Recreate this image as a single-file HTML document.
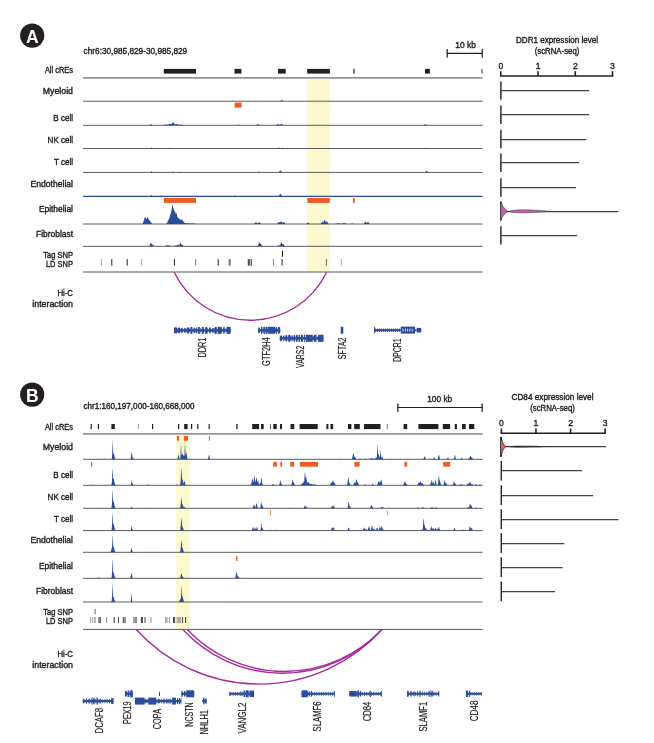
<!DOCTYPE html>
<html><head><meta charset="utf-8"><title>Figure</title>
<style>html,body{margin:0;padding:0;background:#fff;width:654px;height:743px;overflow:hidden}svg{display:block}</style>
</head><body>
<svg width="654" height="743" viewBox="0 0 654 743" font-family="'Liberation Sans', sans-serif"><rect x="0" y="0" width="654" height="743" fill="#ffffff"/>
<rect x="307.20" y="78.30" width="22.60" height="192.70" fill="#fdf9cf"/>
<circle cx="32.2" cy="35.6" r="12.1" fill="#231f20"/>
<text x="32.2" y="42.5" font-size="17.5" font-weight="bold" text-anchor="middle" fill="#ffffff">A</text>
<text x="83.60" y="53.80" font-size="8.5" text-anchor="start" fill="#231f20" textLength="103.60" lengthAdjust="spacingAndGlyphs" stroke="#231f20" stroke-width="0.38" >chr6:30,985,829-30,985,829</text>
<line x1="446.70" y1="53.40" x2="482.70" y2="53.40" stroke="#231f20" stroke-width="1.2"/>
<line x1="447.20" y1="49.00" x2="447.20" y2="57.80" stroke="#231f20" stroke-width="1.2"/>
<line x1="482.20" y1="49.00" x2="482.20" y2="57.80" stroke="#231f20" stroke-width="1.2"/>
<text x="465.60" y="48.40" font-size="8.5" text-anchor="middle" fill="#231f20" textLength="20.50" lengthAdjust="spacingAndGlyphs" stroke="#231f20" stroke-width="0.38" >10 kb</text>
<text x="73.00" y="73.30" font-size="8.5" text-anchor="end" fill="#231f20" textLength="28.10" lengthAdjust="spacingAndGlyphs" stroke="#231f20" stroke-width="0.38" >All cREs</text>
<text x="73.00" y="93.50" font-size="8.5" text-anchor="end" fill="#231f20" textLength="30.20" lengthAdjust="spacingAndGlyphs" stroke="#231f20" stroke-width="0.38" >Myeloid</text>
<text x="73.00" y="121.00" font-size="8.5" text-anchor="end" fill="#231f20" textLength="19.70" lengthAdjust="spacingAndGlyphs" stroke="#231f20" stroke-width="0.38" >B cell</text>
<text x="73.00" y="143.10" font-size="8.5" text-anchor="end" fill="#231f20" textLength="25.40" lengthAdjust="spacingAndGlyphs" stroke="#231f20" stroke-width="0.38" >NK cell</text>
<text x="73.00" y="165.40" font-size="8.5" text-anchor="end" fill="#231f20" textLength="18.90" lengthAdjust="spacingAndGlyphs" stroke="#231f20" stroke-width="0.38" >T cell</text>
<text x="73.00" y="186.60" font-size="8.5" text-anchor="end" fill="#231f20" textLength="42.60" lengthAdjust="spacingAndGlyphs" stroke="#231f20" stroke-width="0.38" >Endothelial</text>
<text x="73.00" y="212.20" font-size="8.5" text-anchor="end" fill="#231f20" textLength="34.10" lengthAdjust="spacingAndGlyphs" stroke="#231f20" stroke-width="0.38" >Epithelial</text>
<text x="73.00" y="237.40" font-size="8.5" text-anchor="end" fill="#231f20" textLength="36.90" lengthAdjust="spacingAndGlyphs" stroke="#231f20" stroke-width="0.38" >Fibroblast</text>
<text x="73.00" y="258.10" font-size="8.5" text-anchor="end" fill="#231f20" textLength="29.80" lengthAdjust="spacingAndGlyphs" stroke="#231f20" stroke-width="0.38" >Tag SNP</text>
<text x="73.00" y="266.60" font-size="8.5" text-anchor="end" fill="#231f20" textLength="27.10" lengthAdjust="spacingAndGlyphs" stroke="#231f20" stroke-width="0.38" >LD SNP</text>
<text x="73.00" y="296.00" font-size="8.5" text-anchor="end" fill="#231f20" textLength="15.60" lengthAdjust="spacingAndGlyphs" stroke="#231f20" stroke-width="0.38" >Hi-C</text>
<text x="73.00" y="306.70" font-size="8.5" text-anchor="end" fill="#231f20" textLength="40.70" lengthAdjust="spacingAndGlyphs" stroke="#231f20" stroke-width="0.38" >interaction</text>
<line x1="83.00" y1="77.80" x2="482.50" y2="77.80" stroke="#959595" stroke-width="1.8"/>
<line x1="83.00" y1="101.20" x2="482.50" y2="101.20" stroke="#5c5c5c" stroke-width="1.0"/>
<line x1="83.00" y1="125.30" x2="482.50" y2="125.30" stroke="#5c5c5c" stroke-width="1.0"/>
<line x1="83.00" y1="148.50" x2="482.50" y2="148.50" stroke="#5c5c5c" stroke-width="1.0"/>
<line x1="83.00" y1="172.40" x2="482.50" y2="172.40" stroke="#5c5c5c" stroke-width="1.0"/>
<line x1="83.00" y1="224.00" x2="482.50" y2="224.00" stroke="#5c5c5c" stroke-width="1.0"/>
<line x1="83.00" y1="246.30" x2="482.50" y2="246.30" stroke="#5c5c5c" stroke-width="1.0"/>
<line x1="83.00" y1="196.30" x2="482.50" y2="196.30" stroke="#2c4c9c" stroke-width="1.2"/>
<line x1="83.00" y1="272.00" x2="482.50" y2="272.00" stroke="#aaaaaa" stroke-width="1.8"/>
<rect x="163.80" y="68.90" width="32.20" height="4.70" fill="#231f20"/>
<rect x="234.50" y="68.90" width="6.90" height="4.70" fill="#231f20"/>
<rect x="278.00" y="68.90" width="7.70" height="4.70" fill="#231f20"/>
<rect x="307.20" y="68.90" width="22.70" height="4.70" fill="#231f20"/>
<rect x="353.40" y="68.90" width="1.20" height="4.70" fill="#231f20"/>
<rect x="425.00" y="68.90" width="4.90" height="4.70" fill="#231f20"/>
<rect x="481.60" y="68.90" width="0.90" height="4.70" fill="#231f20"/>
<rect x="234.60" y="102.60" width="7.00" height="5.00" fill="#ef5b25"/>
<rect x="163.90" y="198.00" width="32.10" height="4.90" fill="#ef5b25"/>
<rect x="307.30" y="198.00" width="22.50" height="4.90" fill="#ef5b25"/>
<rect x="353.00" y="198.00" width="1.80" height="4.90" fill="#ef5b25"/>
<path d="M149.75,125.30 L149.75,125.00 L150.00,124.84 L150.25,124.66 L150.50,124.48 L150.75,124.35 L151.00,124.30 L151.25,124.35 L151.50,124.48 L151.75,124.66 L152.00,124.84 L152.25,125.00 L152.25,125.30 Z" fill="#2c4c9c"/>
<path d="M163.75,125.30 L163.75,125.04 L164.00,124.97 L164.25,124.89 L164.50,124.81 L164.75,124.73 L165.00,124.66 L165.25,124.59 L165.50,124.54 L165.75,124.51 L166.00,124.50 L166.25,124.51 L166.50,124.54 L166.75,124.59 L167.00,124.66 L167.25,124.73 L167.50,124.81 L167.75,124.81 L168.00,124.68 L168.25,124.54 L168.50,124.39 L168.75,124.24 L169.00,124.10 L169.25,123.98 L169.50,123.88 L169.75,123.82 L170.00,123.80 L170.25,123.82 L170.50,123.88 L170.75,123.98 L171.00,124.10 L171.25,124.24 L171.50,124.02 L171.75,123.67 L172.00,123.32 L172.25,123.00 L172.50,122.73 L172.75,122.56 L173.00,122.50 L173.25,122.56 L173.50,122.73 L173.75,123.00 L174.00,123.32 L174.25,123.67 L174.50,124.02 L174.75,124.33 L175.00,124.60 L175.25,124.69 L175.50,124.57 L175.75,124.45 L176.00,124.34 L176.25,124.24 L176.50,124.16 L176.75,124.12 L177.00,124.10 L177.25,124.12 L177.50,124.16 L177.75,124.24 L178.00,124.34 L178.25,124.45 L178.50,124.57 L178.75,124.69 L179.00,124.81 L179.25,124.91 L179.50,125.00 L179.75,124.93 L180.00,124.81 L180.25,124.70 L180.50,124.59 L180.75,124.52 L181.00,124.50 L181.25,124.52 L181.50,124.59 L181.75,124.70 L182.00,124.81 L182.25,124.93 L182.50,125.04 L182.50,125.30 Z" fill="#2c4c9c"/>
<path d="M238.25,125.30 L238.25,124.93 L238.50,124.73 L238.75,124.57 L239.00,124.50 L239.25,124.57 L239.50,124.73 L239.75,124.93 L239.75,125.30 Z" fill="#2c4c9c"/>
<path d="M256.00,125.30 L256.00,125.05 L256.25,124.95 L256.50,124.84 L256.75,124.72 L257.00,124.59 L257.25,124.48 L257.50,124.38 L257.75,124.32 L258.00,124.30 L258.25,124.32 L258.50,124.38 L258.75,124.48 L259.00,124.59 L259.25,124.72 L259.50,124.84 L259.75,124.95 L260.00,125.05 L260.00,125.30 Z" fill="#2c4c9c"/>
<path d="M276.25,125.30 L276.25,125.02 L276.50,124.88 L276.75,124.70 L277.00,124.51 L277.25,124.32 L277.50,124.15 L277.75,124.04 L278.00,124.00 L278.25,124.04 L278.50,124.15 L278.75,124.32 L279.00,124.51 L279.25,124.70 L279.50,124.88 L279.75,125.02 L280.00,124.88 L280.25,124.70 L280.50,124.51 L280.75,124.32 L281.00,124.15 L281.25,124.04 L281.50,124.00 L281.75,124.04 L282.00,124.15 L282.25,124.32 L282.50,124.51 L282.75,124.70 L283.00,124.88 L283.25,125.02 L283.25,125.30 Z" fill="#2c4c9c"/>
<path d="M423.75,125.30 L423.75,125.00 L424.00,124.87 L424.25,124.72 L424.50,124.57 L424.75,124.44 L425.00,124.34 L425.25,124.30 L425.30,124.30 L425.50,124.32 L425.75,124.40 L426.00,124.52 L426.25,124.66 L426.50,124.81 L426.75,124.95 L427.00,125.06 L427.00,125.30 Z" fill="#2c4c9c"/>
<path d="M280.75,101.20 L280.75,100.83 L281.00,100.54 L281.25,100.22 L281.50,99.97 L281.70,99.90 L281.75,99.90 L282.00,100.05 L282.25,100.35 L282.50,100.67 L282.75,100.92 L282.75,101.20 Z" fill="#2c4c9c"/>
<path d="M150.75,148.50 L150.75,148.13 L151.00,147.89 L151.25,147.66 L151.50,147.51 L151.60,147.50 L151.75,147.53 L152.00,147.70 L152.25,147.94 L152.50,148.18 L152.50,148.50 Z" fill="#2c4c9c"/>
<path d="M169.50,148.50 L169.50,148.28 L169.75,148.06 L170.00,147.83 L170.25,147.70 L170.30,147.70 L170.50,147.76 L170.75,147.97 L171.00,148.20 L171.00,148.50 Z" fill="#2c4c9c"/>
<path d="M277.50,148.50 L277.50,148.25 L277.75,148.04 L278.00,147.79 L278.25,147.58 L278.50,147.50 L278.75,147.58 L279.00,147.79 L279.25,148.04 L279.50,148.25 L279.50,148.50 Z" fill="#2c4c9c"/>
<path d="M281.75,148.50 L281.75,148.21 L282.00,148.01 L282.25,147.83 L282.50,147.71 L282.60,147.70 L282.75,147.72 L283.00,147.86 L283.25,148.06 L283.50,148.24 L283.50,148.50 Z" fill="#2c4c9c"/>
<path d="M425.50,148.50 L425.50,148.28 L425.75,148.06 L426.00,147.83 L426.25,147.70 L426.30,147.70 L426.50,147.76 L426.75,147.97 L427.00,148.20 L427.00,148.50 Z" fill="#2c4c9c"/>
<path d="M150.50,172.40 L150.50,172.18 L150.75,171.96 L151.00,171.67 L151.25,171.39 L151.50,171.22 L151.60,171.20 L151.75,171.24 L152.00,171.44 L152.25,171.73 L152.50,172.01 L152.50,172.40 Z" fill="#2c4c9c"/>
<path d="M172.25,172.40 L172.25,172.14 L172.50,171.91 L172.75,171.69 L173.00,171.60 L173.25,171.69 L173.50,171.91 L173.75,172.14 L173.75,172.40 Z" fill="#2c4c9c"/>
<path d="M180.00,172.40 L180.00,172.17 L180.25,172.00 L180.50,171.85 L180.70,171.80 L180.75,171.80 L181.00,171.90 L181.25,172.07 L181.25,172.40 Z" fill="#2c4c9c"/>
<path d="M258.25,172.40 L258.25,172.17 L258.50,171.99 L258.75,171.80 L259.00,171.64 L259.20,171.60 L259.25,171.60 L259.50,171.69 L259.75,171.87 L260.00,172.07 L260.00,172.40 Z" fill="#2c4c9c"/>
<path d="M278.50,172.40 L278.50,172.10 L278.75,171.94 L279.00,171.72 L279.25,171.47 L279.50,171.20 L279.75,170.94 L280.00,170.74 L280.25,170.62 L280.40,170.60 L280.50,170.61 L280.75,170.71 L281.00,170.90 L281.25,171.15 L281.50,171.42 L281.75,171.68 L282.00,171.90 L282.25,172.07 L282.25,172.40 Z" fill="#2c4c9c"/>
<path d="M425.00,172.40 L425.00,172.20 L425.25,172.04 L425.50,171.82 L425.75,171.55 L426.00,171.27 L426.25,171.04 L426.50,170.91 L426.60,170.90 L426.75,170.93 L427.00,171.08 L427.25,171.32 L427.50,171.60 L427.75,171.87 L428.00,172.08 L428.00,172.40 Z" fill="#2c4c9c"/>
<path d="M150.50,196.30 L150.50,196.08 L150.75,195.86 L151.00,195.57 L151.25,195.29 L151.50,195.12 L151.60,195.10 L151.75,195.14 L152.00,195.34 L152.25,195.63 L152.50,195.91 L152.50,196.30 Z" fill="#2c4c9c"/>
<path d="M160.25,196.30 L160.25,196.04 L160.50,195.81 L160.75,195.59 L161.00,195.50 L161.25,195.59 L161.50,195.81 L161.75,196.04 L161.75,196.30 Z" fill="#2c4c9c"/>
<path d="M234.25,196.30 L234.25,196.04 L234.50,195.81 L234.75,195.59 L235.00,195.50 L235.25,195.59 L235.50,195.81 L235.75,196.04 L235.75,196.30 Z" fill="#2c4c9c"/>
<path d="M258.50,196.30 L258.50,195.94 L258.75,195.77 L259.00,195.70 L259.25,195.77 L259.50,195.94 L259.50,196.30 Z" fill="#2c4c9c"/>
<path d="M278.75,196.30 L278.75,195.99 L279.00,195.74 L279.25,195.37 L279.50,194.92 L279.75,194.43 L280.00,194.01 L280.25,193.75 L280.40,193.70 L280.50,193.72 L280.75,193.94 L281.00,194.34 L281.25,194.82 L281.50,195.29 L281.75,195.67 L282.00,195.95 L282.00,196.30 Z" fill="#2c4c9c"/>
<path d="M411.50,196.30 L411.50,195.94 L411.75,195.77 L412.00,195.70 L412.25,195.77 L412.50,195.94 L412.50,196.30 Z" fill="#2c4c9c"/>
<path d="M419.50,196.30 L419.50,195.94 L419.75,195.77 L420.00,195.70 L420.25,195.77 L420.50,195.94 L420.50,196.30 Z" fill="#2c4c9c"/>
<path d="M182.25,224.00 L182.25,223.77 L182.50,223.74 L182.75,223.71 L183.00,223.67 L183.25,223.63 L183.50,223.59 L183.75,223.56 L184.00,223.51 L184.25,223.47 L184.50,223.43 L184.75,223.40 L185.00,223.36 L185.25,223.33 L185.50,223.29 L185.75,223.27 L186.00,223.24 L186.25,223.22 L186.50,223.21 L186.75,223.20 L187.00,223.20 L187.25,223.20 L187.50,223.21 L187.75,223.22 L188.00,223.24 L188.25,223.27 L188.50,223.29 L188.75,223.33 L189.00,223.36 L189.25,223.40 L189.50,223.43 L189.75,223.47 L190.00,223.51 L190.25,223.56 L190.50,223.59 L190.75,223.63 L191.00,223.64 L191.25,223.59 L191.50,223.55 L191.75,223.51 L192.00,223.47 L192.25,223.44 L192.50,223.42 L192.75,223.40 L193.00,223.40 L193.25,223.40 L193.50,223.42 L193.75,223.44 L194.00,223.47 L194.25,223.51 L194.50,223.55 L194.75,223.59 L195.00,223.64 L195.25,223.68 L195.50,223.73 L195.75,223.77 L195.75,224.00 Z" fill="#2c4c9c"/>
<path d="M254.00,224.00 L254.00,223.76 L254.25,223.61 L254.50,223.42 L254.75,223.18 L255.00,222.91 L255.25,222.64 L255.50,222.41 L255.75,222.26 L256.00,222.20 L256.25,222.26 L256.50,222.41 L256.75,222.64 L257.00,222.91 L257.25,223.18 L257.50,223.42 L257.75,223.18 L258.00,222.91 L258.25,222.64 L258.50,222.41 L258.75,222.26 L259.00,222.20 L259.25,222.26 L259.50,222.41 L259.75,222.64 L260.00,222.91 L260.25,223.18 L260.50,223.42 L260.75,223.61 L261.00,223.76 L261.00,224.00 Z" fill="#2c4c9c"/>
<path d="M277.00,224.00 L277.00,223.73 L277.25,223.57 L277.50,223.35 L277.75,223.08 L278.00,222.79 L278.25,222.49 L278.50,222.24 L278.75,222.06 L279.00,222.00 L279.25,222.06 L279.50,222.24 L279.75,222.49 L280.00,222.48 L280.25,222.11 L280.50,221.79 L280.75,221.58 L281.00,221.50 L281.25,221.58 L281.50,221.79 L281.75,222.11 L282.00,222.48 L282.25,222.86 L282.50,222.79 L282.75,222.49 L283.00,222.24 L283.25,222.06 L283.50,222.00 L283.75,222.06 L284.00,222.24 L284.25,222.49 L284.50,222.79 L284.75,223.08 L285.00,223.35 L285.25,223.57 L285.50,223.73 L285.50,224.00 Z" fill="#2c4c9c"/>
<path d="M306.50,224.00 L306.50,223.72 L306.75,223.53 L307.00,223.27 L307.25,222.97 L307.50,222.68 L307.75,222.48 L308.00,222.40 L308.25,222.48 L308.50,222.68 L308.75,222.97 L309.00,223.27 L309.25,223.53 L309.50,223.72 L309.50,224.00 Z" fill="#2c4c9c"/>
<path d="M320.50,224.00 L320.50,223.73 L320.75,223.57 L321.00,223.35 L321.25,223.08 L321.50,222.79 L321.75,222.49 L322.00,222.24 L322.25,222.06 L322.50,222.00 L322.75,222.06 L323.00,222.24 L323.25,222.49 L323.50,222.10 L323.75,221.44 L324.00,220.80 L324.25,220.29 L324.50,220.02 L324.60,220.00 L324.75,220.06 L325.00,220.38 L325.25,220.92 L325.50,221.57 L325.75,222.11 L326.00,221.79 L326.25,221.58 L326.50,221.50 L326.75,221.58 L327.00,221.79 L327.25,222.11 L327.50,222.48 L327.75,222.86 L328.00,223.19 L328.25,223.46 L328.50,223.66 L328.50,224.00 Z" fill="#2c4c9c"/>
<path d="M335.00,224.00 L335.00,223.77 L335.25,223.73 L335.50,223.68 L335.75,223.63 L336.00,223.58 L336.25,223.52 L336.50,223.47 L336.75,223.42 L337.00,223.38 L337.25,223.35 L337.50,223.32 L337.75,223.31 L338.00,223.30 L338.25,223.31 L338.50,223.32 L338.75,223.35 L339.00,223.38 L339.25,223.42 L339.50,223.47 L339.75,223.52 L340.00,223.58 L340.25,223.63 L340.50,223.68 L340.75,223.73 L341.00,223.77 L341.25,223.73 L341.50,223.68 L341.75,223.63 L342.00,223.58 L342.25,223.52 L342.50,223.47 L342.75,223.42 L343.00,223.38 L343.25,223.35 L343.50,223.32 L343.75,223.31 L344.00,223.30 L344.25,223.31 L344.50,223.32 L344.75,223.35 L345.00,223.38 L345.25,223.42 L345.50,223.47 L345.75,223.52 L346.00,223.58 L346.25,223.63 L346.50,223.68 L346.75,223.73 L347.00,223.77 L347.00,224.00 Z" fill="#2c4c9c"/>
<path d="M351.25,224.00 L351.25,223.74 L351.50,223.51 L351.75,223.29 L352.00,223.20 L352.25,223.29 L352.50,223.51 L352.75,223.74 L352.75,224.00 Z" fill="#2c4c9c"/>
<path d="M363.75,224.00 L363.75,223.77 L364.00,223.57 L364.25,223.26 L364.50,222.86 L364.75,222.39 L365.00,221.94 L365.25,221.62 L365.50,221.50 L365.75,221.62 L366.00,221.94 L366.25,222.39 L366.50,222.86 L366.75,223.26 L367.00,223.08 L367.25,222.71 L367.50,222.35 L367.75,222.10 L368.00,222.00 L368.25,222.10 L368.50,222.35 L368.75,222.71 L369.00,223.08 L369.25,223.41 L369.50,223.66 L369.50,224.00 Z" fill="#2c4c9c"/>
<path d="M142.30,224.00 L142.30,224.00 L143.20,222.50 L144.00,219.80 L144.60,217.50 L145.00,218.20 L145.30,216.40 L145.80,218.00 L146.30,219.20 L146.80,218.50 L147.30,217.80 L147.80,216.80 L148.30,218.50 L148.90,219.40 L149.40,220.80 L150.00,220.60 L150.50,221.80 L151.20,222.40 L152.10,224.00 L152.10,224.00 Z" fill="#2c4c9c"/>
<path d="M166.40,224.00 L166.40,224.00 L167.20,222.50 L168.00,221.00 L168.60,219.50 L169.20,218.50 L169.80,216.50 L170.30,214.40 L170.80,213.50 L171.30,211.50 L171.80,208.50 L172.20,205.50 L172.50,204.00 L172.90,206.50 L173.30,209.00 L173.70,208.00 L174.10,210.00 L174.60,212.00 L175.10,211.20 L175.60,213.50 L176.20,213.80 L176.70,213.10 L177.20,216.00 L177.80,218.00 L178.40,217.50 L179.00,218.80 L179.60,219.00 L180.00,219.20 L180.60,220.00 L181.20,219.40 L182.10,219.70 L182.80,220.80 L183.50,221.60 L184.20,222.40 L185.00,223.00 L185.80,223.50 L186.50,224.00 L186.50,224.00 Z" fill="#2c4c9c"/>
<path d="M149.25,246.30 L149.25,245.98 L149.50,245.70 L149.75,245.27 L150.00,244.70 L150.25,244.04 L150.50,243.42 L150.75,242.97 L151.00,242.80 L151.25,242.97 L151.50,243.42 L151.75,244.04 L152.00,244.65 L152.25,244.40 L152.50,244.30 L152.75,244.40 L153.00,244.65 L153.25,245.01 L153.50,245.38 L153.75,245.71 L154.00,245.96 L154.00,246.30 Z" fill="#2c4c9c"/>
<path d="M165.75,246.30 L165.75,245.98 L166.00,245.68 L166.25,245.31 L166.50,244.98 L166.75,244.81 L166.80,244.80 L167.00,244.88 L167.25,245.17 L167.50,245.54 L167.75,245.87 L168.00,245.84 L168.25,245.66 L168.50,245.48 L168.75,245.35 L169.00,245.30 L169.25,245.35 L169.50,245.48 L169.75,245.66 L170.00,245.84 L170.25,246.00 L170.25,246.30 Z" fill="#2c4c9c"/>
<path d="M174.50,246.30 L174.50,246.09 L174.75,245.95 L175.00,245.75 L175.25,245.53 L175.50,245.31 L175.75,245.16 L176.00,245.10 L176.25,245.16 L176.50,245.31 L176.75,245.53 L177.00,245.39 L177.25,245.17 L177.50,244.98 L177.75,244.85 L178.00,244.80 L178.25,244.85 L178.50,244.98 L178.75,245.17 L179.00,245.39 L179.25,245.05 L179.50,244.44 L179.75,243.78 L180.00,243.21 L180.25,242.86 L180.40,242.80 L180.50,242.83 L180.75,243.12 L181.00,243.66 L181.25,244.31 L181.50,244.82 L181.75,244.59 L182.00,244.50 L182.25,244.59 L182.50,244.82 L182.75,245.14 L183.00,245.48 L183.25,245.77 L183.50,245.99 L183.50,246.30 Z" fill="#2c4c9c"/>
<path d="M257.50,246.30 L257.50,246.06 L257.75,245.82 L258.00,245.43 L258.25,244.88 L258.50,244.18 L258.75,243.42 L259.00,242.77 L259.25,242.37 L259.40,242.30 L259.50,242.33 L259.75,242.67 L260.00,243.28 L260.25,243.88 L260.50,243.80 L260.75,243.88 L261.00,244.09 L261.25,244.41 L261.50,244.78 L261.75,245.16 L262.00,245.49 L262.25,245.76 L262.50,245.96 L262.50,246.30 Z" fill="#2c4c9c"/>
<path d="M277.25,246.30 L277.25,246.08 L277.50,245.98 L277.75,245.84 L278.00,245.69 L278.25,245.55 L278.50,245.42 L278.75,245.33 L279.00,245.30 L279.25,245.33 L279.50,245.42 L279.75,245.55 L280.00,245.43 L280.25,244.88 L280.50,244.18 L280.75,243.42 L281.00,242.77 L281.25,242.37 L281.40,242.30 L281.50,242.33 L281.75,242.67 L282.00,243.28 L282.25,244.03 L282.50,243.91 L282.75,243.80 L282.80,243.80 L283.00,243.85 L283.25,244.04 L283.50,244.34 L283.75,244.71 L284.00,245.08 L284.25,245.43 L284.50,245.71 L284.75,245.93 L285.00,246.08 L285.00,246.30 Z" fill="#2c4c9c"/>
<path d="M379.50,246.30 L379.50,246.07 L379.75,245.89 L380.00,245.80 L380.25,245.89 L380.50,246.07 L380.50,246.30 Z" fill="#2c4c9c"/>
<line x1="282.50" y1="250.60" x2="282.50" y2="256.70" stroke="#231f20" stroke-width="1.1"/>
<line x1="101.50" y1="259.10" x2="101.50" y2="265.70" stroke="#aaaaaa" stroke-width="1.0"/>
<line x1="111.80" y1="259.10" x2="111.80" y2="265.70" stroke="#231f20" stroke-width="1.0"/>
<line x1="127.20" y1="259.10" x2="127.20" y2="265.70" stroke="#231f20" stroke-width="1.0"/>
<line x1="141.70" y1="259.10" x2="141.70" y2="265.70" stroke="#aaaaaa" stroke-width="1.0"/>
<line x1="174.40" y1="259.10" x2="174.40" y2="265.70" stroke="#231f20" stroke-width="1.0"/>
<line x1="195.70" y1="259.10" x2="195.70" y2="265.70" stroke="#777777" stroke-width="1.0"/>
<line x1="218.20" y1="259.10" x2="218.20" y2="265.70" stroke="#231f20" stroke-width="1.0"/>
<line x1="229.20" y1="259.10" x2="229.20" y2="265.70" stroke="#444444" stroke-width="1.0"/>
<line x1="230.50" y1="259.10" x2="230.50" y2="265.70" stroke="#999999" stroke-width="1.0"/>
<line x1="248.30" y1="259.10" x2="248.30" y2="265.70" stroke="#231f20" stroke-width="1.0"/>
<line x1="249.80" y1="259.10" x2="249.80" y2="265.70" stroke="#231f20" stroke-width="1.0"/>
<line x1="251.50" y1="259.10" x2="251.50" y2="265.70" stroke="#666666" stroke-width="1.0"/>
<line x1="273.50" y1="259.10" x2="273.50" y2="265.70" stroke="#888888" stroke-width="1.0"/>
<line x1="282.10" y1="259.10" x2="282.10" y2="265.70" stroke="#231f20" stroke-width="1.0"/>
<line x1="326.40" y1="259.10" x2="326.40" y2="265.70" stroke="#666666" stroke-width="1.0"/>
<line x1="341.30" y1="259.10" x2="341.30" y2="265.70" stroke="#aaaaaa" stroke-width="1.0"/>
<path d="M174.20,272.30 A84.56,84.56 0 0 0 326.60,272.30" fill="none" stroke="#a62b9d" stroke-width="1.4"/>
<rect x="174.00" y="329.20" width="56.60" height="2.40" fill="#2c4c9c"/>
<rect x="175.00" y="328.20" width="0.80" height="4.40" fill="#2c4c9c"/>
<rect x="177.30" y="328.20" width="0.80" height="4.40" fill="#2c4c9c"/>
<rect x="179.60" y="328.20" width="0.80" height="4.40" fill="#2c4c9c"/>
<rect x="181.90" y="328.20" width="0.80" height="4.40" fill="#2c4c9c"/>
<rect x="184.20" y="328.20" width="0.80" height="4.40" fill="#2c4c9c"/>
<rect x="186.50" y="328.20" width="0.80" height="4.40" fill="#2c4c9c"/>
<rect x="188.80" y="328.20" width="0.80" height="4.40" fill="#2c4c9c"/>
<rect x="191.10" y="328.20" width="0.80" height="4.40" fill="#2c4c9c"/>
<rect x="193.40" y="328.20" width="0.80" height="4.40" fill="#2c4c9c"/>
<rect x="195.70" y="328.20" width="0.80" height="4.40" fill="#2c4c9c"/>
<rect x="198.00" y="328.20" width="0.80" height="4.40" fill="#2c4c9c"/>
<rect x="200.30" y="328.20" width="0.80" height="4.40" fill="#2c4c9c"/>
<rect x="202.60" y="328.20" width="0.80" height="4.40" fill="#2c4c9c"/>
<rect x="204.90" y="328.20" width="0.80" height="4.40" fill="#2c4c9c"/>
<rect x="207.20" y="328.20" width="0.80" height="4.40" fill="#2c4c9c"/>
<rect x="209.50" y="328.20" width="0.80" height="4.40" fill="#2c4c9c"/>
<rect x="211.80" y="328.20" width="0.80" height="4.40" fill="#2c4c9c"/>
<rect x="214.10" y="328.20" width="0.80" height="4.40" fill="#2c4c9c"/>
<rect x="216.40" y="328.20" width="0.80" height="4.40" fill="#2c4c9c"/>
<rect x="218.70" y="328.20" width="0.80" height="4.40" fill="#2c4c9c"/>
<rect x="221.00" y="328.20" width="0.80" height="4.40" fill="#2c4c9c"/>
<rect x="223.30" y="328.20" width="0.80" height="4.40" fill="#2c4c9c"/>
<rect x="225.60" y="328.20" width="0.80" height="4.40" fill="#2c4c9c"/>
<rect x="227.90" y="328.20" width="0.80" height="4.40" fill="#2c4c9c"/>
<rect x="174.00" y="327.40" width="3.00" height="6.00" fill="#2c4c9c"/>
<rect x="178.00" y="327.65" width="2.00" height="5.50" fill="#2c4c9c"/>
<rect x="181.00" y="327.90" width="1.00" height="5.00" fill="#2c4c9c"/>
<rect x="184.80" y="327.90" width="1.00" height="5.00" fill="#2c4c9c"/>
<rect x="187.00" y="327.40" width="2.00" height="6.00" fill="#2c4c9c"/>
<rect x="190.40" y="326.90" width="2.00" height="7.00" fill="#2c4c9c"/>
<rect x="193.90" y="327.65" width="1.00" height="5.50" fill="#2c4c9c"/>
<rect x="195.90" y="327.65" width="1.00" height="5.50" fill="#2c4c9c"/>
<rect x="197.80" y="326.90" width="2.00" height="7.00" fill="#2c4c9c"/>
<rect x="201.80" y="326.90" width="2.00" height="7.00" fill="#2c4c9c"/>
<rect x="205.30" y="326.90" width="2.00" height="7.00" fill="#2c4c9c"/>
<rect x="209.30" y="327.40" width="1.50" height="6.00" fill="#2c4c9c"/>
<rect x="212.70" y="327.90" width="1.00" height="5.00" fill="#2c4c9c"/>
<rect x="214.70" y="326.90" width="2.00" height="7.00" fill="#2c4c9c"/>
<rect x="217.70" y="326.90" width="4.00" height="7.00" fill="#2c4c9c"/>
<rect x="223.20" y="327.15" width="1.50" height="6.50" fill="#2c4c9c"/>
<rect x="226.70" y="326.90" width="3.90" height="7.00" fill="#2c4c9c"/>
<rect x="258.20" y="329.10" width="22.00" height="2.40" fill="#2c4c9c"/>
<rect x="259.20" y="328.10" width="0.80" height="4.40" fill="#2c4c9c"/>
<rect x="261.50" y="328.10" width="0.80" height="4.40" fill="#2c4c9c"/>
<rect x="263.80" y="328.10" width="0.80" height="4.40" fill="#2c4c9c"/>
<rect x="266.10" y="328.10" width="0.80" height="4.40" fill="#2c4c9c"/>
<rect x="268.40" y="328.10" width="0.80" height="4.40" fill="#2c4c9c"/>
<rect x="270.70" y="328.10" width="0.80" height="4.40" fill="#2c4c9c"/>
<rect x="273.00" y="328.10" width="0.80" height="4.40" fill="#2c4c9c"/>
<rect x="275.30" y="328.10" width="0.80" height="4.40" fill="#2c4c9c"/>
<rect x="277.60" y="328.10" width="0.80" height="4.40" fill="#2c4c9c"/>
<rect x="258.20" y="327.55" width="1.60" height="5.50" fill="#2c4c9c"/>
<rect x="261.00" y="326.80" width="1.50" height="7.00" fill="#2c4c9c"/>
<rect x="263.40" y="326.80" width="1.80" height="7.00" fill="#2c4c9c"/>
<rect x="265.70" y="326.80" width="1.60" height="7.00" fill="#2c4c9c"/>
<rect x="267.60" y="326.80" width="7.70" height="7.00" fill="#2c4c9c"/>
<rect x="275.90" y="326.80" width="1.10" height="7.00" fill="#2c4c9c"/>
<rect x="278.00" y="327.05" width="2.20" height="6.50" fill="#2c4c9c"/>
<rect x="279.80" y="337.10" width="43.70" height="2.40" fill="#2c4c9c"/>
<rect x="280.80" y="336.10" width="0.80" height="4.40" fill="#2c4c9c"/>
<rect x="283.10" y="336.10" width="0.80" height="4.40" fill="#2c4c9c"/>
<rect x="285.40" y="336.10" width="0.80" height="4.40" fill="#2c4c9c"/>
<rect x="287.70" y="336.10" width="0.80" height="4.40" fill="#2c4c9c"/>
<rect x="290.00" y="336.10" width="0.80" height="4.40" fill="#2c4c9c"/>
<rect x="292.30" y="336.10" width="0.80" height="4.40" fill="#2c4c9c"/>
<rect x="294.60" y="336.10" width="0.80" height="4.40" fill="#2c4c9c"/>
<rect x="296.90" y="336.10" width="0.80" height="4.40" fill="#2c4c9c"/>
<rect x="299.20" y="336.10" width="0.80" height="4.40" fill="#2c4c9c"/>
<rect x="301.50" y="336.10" width="0.80" height="4.40" fill="#2c4c9c"/>
<rect x="303.80" y="336.10" width="0.80" height="4.40" fill="#2c4c9c"/>
<rect x="306.10" y="336.10" width="0.80" height="4.40" fill="#2c4c9c"/>
<rect x="308.40" y="336.10" width="0.80" height="4.40" fill="#2c4c9c"/>
<rect x="310.70" y="336.10" width="0.80" height="4.40" fill="#2c4c9c"/>
<rect x="313.00" y="336.10" width="0.80" height="4.40" fill="#2c4c9c"/>
<rect x="315.30" y="336.10" width="0.80" height="4.40" fill="#2c4c9c"/>
<rect x="317.60" y="336.10" width="0.80" height="4.40" fill="#2c4c9c"/>
<rect x="319.90" y="336.10" width="0.80" height="4.40" fill="#2c4c9c"/>
<rect x="322.20" y="336.10" width="0.80" height="4.40" fill="#2c4c9c"/>
<rect x="279.80" y="335.55" width="2.00" height="5.50" fill="#2c4c9c"/>
<rect x="283.40" y="335.30" width="1.00" height="6.00" fill="#2c4c9c"/>
<rect x="285.50" y="335.05" width="1.60" height="6.50" fill="#2c4c9c"/>
<rect x="288.20" y="334.80" width="2.10" height="7.00" fill="#2c4c9c"/>
<rect x="291.40" y="335.30" width="1.10" height="6.00" fill="#2c4c9c"/>
<rect x="293.50" y="335.05" width="1.50" height="6.50" fill="#2c4c9c"/>
<rect x="296.00" y="334.80" width="1.60" height="7.00" fill="#2c4c9c"/>
<rect x="298.50" y="334.80" width="1.50" height="7.00" fill="#2c4c9c"/>
<rect x="301.00" y="334.80" width="2.00" height="7.00" fill="#2c4c9c"/>
<rect x="304.00" y="334.80" width="1.00" height="7.00" fill="#2c4c9c"/>
<rect x="305.80" y="334.80" width="7.00" height="7.00" fill="#2c4c9c"/>
<rect x="313.90" y="334.80" width="2.60" height="7.00" fill="#2c4c9c"/>
<rect x="318.10" y="334.70" width="5.40" height="7.20" fill="#2c4c9c"/>
<rect x="340.70" y="326.70" width="2.60" height="7.00" fill="#2c4c9c"/>
<rect x="374.20" y="329.10" width="26.50" height="2.20" fill="#2c4c9c"/>
<rect x="375.20" y="328.40" width="0.80" height="3.60" fill="#2c4c9c"/>
<rect x="377.20" y="328.40" width="0.80" height="3.60" fill="#2c4c9c"/>
<rect x="379.20" y="328.40" width="0.80" height="3.60" fill="#2c4c9c"/>
<rect x="381.20" y="328.40" width="0.80" height="3.60" fill="#2c4c9c"/>
<rect x="383.20" y="328.40" width="0.80" height="3.60" fill="#2c4c9c"/>
<rect x="385.20" y="328.40" width="0.80" height="3.60" fill="#2c4c9c"/>
<rect x="387.20" y="328.40" width="0.80" height="3.60" fill="#2c4c9c"/>
<rect x="389.20" y="328.40" width="0.80" height="3.60" fill="#2c4c9c"/>
<rect x="391.20" y="328.40" width="0.80" height="3.60" fill="#2c4c9c"/>
<rect x="393.20" y="328.40" width="0.80" height="3.60" fill="#2c4c9c"/>
<rect x="395.20" y="328.40" width="0.80" height="3.60" fill="#2c4c9c"/>
<rect x="397.20" y="328.40" width="0.80" height="3.60" fill="#2c4c9c"/>
<rect x="399.20" y="328.40" width="0.80" height="3.60" fill="#2c4c9c"/>
<rect x="374.20" y="326.80" width="1.00" height="6.80" fill="#2c4c9c"/>
<rect x="400.70" y="326.60" width="14.30" height="7.00" fill="#2c4c9c"/>
<rect x="402.50" y="328.60" width="1.00" height="3.00" fill="#c9d3ea"/>
<rect x="404.80" y="328.60" width="1.00" height="3.00" fill="#c9d3ea"/>
<rect x="407.10" y="328.60" width="1.00" height="3.00" fill="#c9d3ea"/>
<rect x="409.40" y="328.60" width="1.00" height="3.00" fill="#c9d3ea"/>
<rect x="411.70" y="328.60" width="1.00" height="3.00" fill="#c9d3ea"/>
<rect x="415.00" y="329.30" width="1.70" height="1.80" fill="#2c4c9c"/>
<rect x="416.70" y="327.90" width="4.60" height="4.60" fill="#2c4c9c"/>
<text x="0" y="0" font-size="10.2" text-anchor="middle" fill="#231f20" stroke="#231f20" stroke-width="0.2" textLength="20.00" lengthAdjust="spacingAndGlyphs" transform="translate(206.00 347.50) rotate(-90)">DDR1</text>
<text x="0" y="0" font-size="10.2" text-anchor="middle" fill="#231f20" stroke="#231f20" stroke-width="0.2" textLength="28.60" lengthAdjust="spacingAndGlyphs" transform="translate(269.70 351.60) rotate(-90)">GTF2H4</text>
<text x="0" y="0" font-size="10.2" text-anchor="middle" fill="#231f20" stroke="#231f20" stroke-width="0.2" textLength="22.30" lengthAdjust="spacingAndGlyphs" transform="translate(303.80 356.85) rotate(-90)">VARS2</text>
<text x="0" y="0" font-size="10.2" text-anchor="middle" fill="#231f20" stroke="#231f20" stroke-width="0.2" textLength="21.60" lengthAdjust="spacingAndGlyphs" transform="translate(345.90 348.40) rotate(-90)">SFTA2</text>
<text x="0" y="0" font-size="10.2" text-anchor="middle" fill="#231f20" stroke="#231f20" stroke-width="0.2" textLength="23.40" lengthAdjust="spacingAndGlyphs" transform="translate(401.00 350.10) rotate(-90)">DPCR1</text>
<text x="557.00" y="43.00" font-size="8.5" text-anchor="middle" fill="#231f20" textLength="82.00" lengthAdjust="spacingAndGlyphs" stroke="#231f20" stroke-width="0.38" >DDR1 expression level</text>
<text x="557.00" y="53.60" font-size="8.5" text-anchor="middle" fill="#231f20" textLength="44.70" lengthAdjust="spacingAndGlyphs" stroke="#231f20" stroke-width="0.38" >(scRNA-seq)</text>
<line x1="500.00" y1="76.00" x2="613.29" y2="76.00" stroke="#231f20" stroke-width="1.6"/>
<line x1="500.80" y1="71.20" x2="500.80" y2="76.00" stroke="#231f20" stroke-width="1.6"/>
<text x="500.80" y="68.80" font-size="8.5" text-anchor="middle" fill="#231f20" stroke="#231f20" stroke-width="0.38" >0</text>
<line x1="538.03" y1="71.20" x2="538.03" y2="76.00" stroke="#231f20" stroke-width="1.6"/>
<text x="538.03" y="68.80" font-size="8.5" text-anchor="middle" fill="#231f20" stroke="#231f20" stroke-width="0.38" >1</text>
<line x1="575.26" y1="71.20" x2="575.26" y2="76.00" stroke="#231f20" stroke-width="1.6"/>
<text x="575.26" y="68.80" font-size="8.5" text-anchor="middle" fill="#231f20" stroke="#231f20" stroke-width="0.38" >2</text>
<line x1="612.49" y1="71.20" x2="612.49" y2="76.00" stroke="#231f20" stroke-width="1.6"/>
<text x="612.49" y="68.80" font-size="8.5" text-anchor="middle" fill="#231f20" stroke="#231f20" stroke-width="0.38" >3</text>
<line x1="500.90" y1="81.40" x2="500.90" y2="99.80" stroke="#2f2f2f" stroke-width="1.5"/>
<line x1="500.90" y1="90.50" x2="589.30" y2="90.50" stroke="#444444" stroke-width="1.25"/>
<line x1="500.90" y1="105.60" x2="500.90" y2="124.00" stroke="#2f2f2f" stroke-width="1.5"/>
<line x1="500.90" y1="114.50" x2="589.30" y2="114.50" stroke="#444444" stroke-width="1.25"/>
<line x1="500.90" y1="129.80" x2="500.90" y2="148.20" stroke="#2f2f2f" stroke-width="1.5"/>
<line x1="500.90" y1="139.50" x2="586.40" y2="139.50" stroke="#444444" stroke-width="1.25"/>
<line x1="500.90" y1="153.60" x2="500.90" y2="172.00" stroke="#2f2f2f" stroke-width="1.5"/>
<line x1="500.90" y1="162.50" x2="579.10" y2="162.50" stroke="#444444" stroke-width="1.25"/>
<line x1="500.90" y1="178.30" x2="500.90" y2="196.70" stroke="#2f2f2f" stroke-width="1.5"/>
<line x1="500.90" y1="187.50" x2="576.00" y2="187.50" stroke="#444444" stroke-width="1.25"/>
<line x1="500.90" y1="201.80" x2="500.90" y2="220.20" stroke="#2f2f2f" stroke-width="1.5"/>
<line x1="500.90" y1="211.50" x2="618.40" y2="211.50" stroke="#444444" stroke-width="1.25"/>
<line x1="500.90" y1="226.20" x2="500.90" y2="244.60" stroke="#2f2f2f" stroke-width="1.5"/>
<line x1="500.90" y1="235.50" x2="577.20" y2="235.50" stroke="#444444" stroke-width="1.25"/>
<path d="M500.6,201.4 C501.5,204 504,209.5 507.9,211.3 C504,213.1 501.5,218 500.6,221.2 Z" fill="#c45fb0" stroke="#3a3a3a" stroke-width="0.7"/>
<path d="M509.5,211.3 C514,209.3 527,209.3 550,211.3 C527,213.3 514,213.3 509.5,211.3 Z" fill="#c45fb0" stroke="#3a3a3a" stroke-width="0.5"/>
<rect x="176.30" y="434.80" width="13.30" height="194.20" fill="#fdf9cf"/>
<circle cx="32.2" cy="394.6" r="12.1" fill="#231f20"/>
<text x="32.2" y="401.5" font-size="17.5" font-weight="bold" text-anchor="middle" fill="#ffffff">B</text>
<text x="83.40" y="408.60" font-size="8.5" text-anchor="start" fill="#231f20" textLength="111.20" lengthAdjust="spacingAndGlyphs" stroke="#231f20" stroke-width="0.38" >chr1:160,197,000-160,668,000</text>
<line x1="397.30" y1="407.50" x2="482.70" y2="407.50" stroke="#231f20" stroke-width="1.2"/>
<line x1="397.80" y1="403.40" x2="397.80" y2="412.10" stroke="#231f20" stroke-width="1.2"/>
<line x1="482.20" y1="403.40" x2="482.20" y2="412.10" stroke="#231f20" stroke-width="1.2"/>
<text x="439.70" y="401.60" font-size="8.5" text-anchor="middle" fill="#231f20" textLength="25.00" lengthAdjust="spacingAndGlyphs" stroke="#231f20" stroke-width="0.38" >100 kb</text>
<text x="73.00" y="429.60" font-size="8.5" text-anchor="end" fill="#231f20" textLength="28.10" lengthAdjust="spacingAndGlyphs" stroke="#231f20" stroke-width="0.38" >All cREs</text>
<text x="73.00" y="450.10" font-size="8.5" text-anchor="end" fill="#231f20" textLength="30.20" lengthAdjust="spacingAndGlyphs" stroke="#231f20" stroke-width="0.38" >Myeloid</text>
<text x="73.00" y="477.70" font-size="8.5" text-anchor="end" fill="#231f20" textLength="19.70" lengthAdjust="spacingAndGlyphs" stroke="#231f20" stroke-width="0.38" >B cell</text>
<text x="73.00" y="499.90" font-size="8.5" text-anchor="end" fill="#231f20" textLength="25.40" lengthAdjust="spacingAndGlyphs" stroke="#231f20" stroke-width="0.38" >NK cell</text>
<text x="73.00" y="521.90" font-size="8.5" text-anchor="end" fill="#231f20" textLength="18.90" lengthAdjust="spacingAndGlyphs" stroke="#231f20" stroke-width="0.38" >T cell</text>
<text x="73.00" y="543.10" font-size="8.5" text-anchor="end" fill="#231f20" textLength="42.60" lengthAdjust="spacingAndGlyphs" stroke="#231f20" stroke-width="0.38" >Endothelial</text>
<text x="73.00" y="568.50" font-size="8.5" text-anchor="end" fill="#231f20" textLength="34.10" lengthAdjust="spacingAndGlyphs" stroke="#231f20" stroke-width="0.38" >Epithelial</text>
<text x="73.00" y="593.50" font-size="8.5" text-anchor="end" fill="#231f20" textLength="36.90" lengthAdjust="spacingAndGlyphs" stroke="#231f20" stroke-width="0.38" >Fibroblast</text>
<text x="73.00" y="614.60" font-size="8.5" text-anchor="end" fill="#231f20" textLength="29.80" lengthAdjust="spacingAndGlyphs" stroke="#231f20" stroke-width="0.38" >Tag SNP</text>
<text x="73.00" y="624.00" font-size="8.5" text-anchor="end" fill="#231f20" textLength="27.10" lengthAdjust="spacingAndGlyphs" stroke="#231f20" stroke-width="0.38" >LD SNP</text>
<text x="73.00" y="656.50" font-size="8.5" text-anchor="end" fill="#231f20" textLength="15.60" lengthAdjust="spacingAndGlyphs" stroke="#231f20" stroke-width="0.38" >Hi-C</text>
<text x="73.00" y="668.00" font-size="8.5" text-anchor="end" fill="#231f20" textLength="40.70" lengthAdjust="spacingAndGlyphs" stroke="#231f20" stroke-width="0.38" >interaction</text>
<line x1="83.00" y1="433.90" x2="482.60" y2="433.90" stroke="#959595" stroke-width="1.7"/>
<line x1="83.00" y1="459.30" x2="482.60" y2="459.30" stroke="#5c5c5c" stroke-width="1.0"/>
<line x1="83.00" y1="485.30" x2="482.60" y2="485.30" stroke="#5c5c5c" stroke-width="1.0"/>
<line x1="83.00" y1="508.30" x2="482.60" y2="508.30" stroke="#5c5c5c" stroke-width="1.0"/>
<line x1="83.00" y1="530.60" x2="482.60" y2="530.60" stroke="#5c5c5c" stroke-width="1.0"/>
<line x1="83.00" y1="552.30" x2="482.60" y2="552.30" stroke="#5c5c5c" stroke-width="1.0"/>
<line x1="83.00" y1="578.30" x2="482.60" y2="578.30" stroke="#5c5c5c" stroke-width="1.0"/>
<line x1="83.00" y1="602.00" x2="482.60" y2="602.00" stroke="#5c5c5c" stroke-width="1.0"/>
<line x1="83.00" y1="629.40" x2="482.60" y2="629.40" stroke="#555555" stroke-width="1.0"/>
<rect x="90.60" y="424.00" width="1.20" height="5.10" fill="#231f20"/>
<rect x="97.80" y="424.00" width="1.20" height="5.10" fill="#231f20"/>
<rect x="111.40" y="424.00" width="3.40" height="5.10" fill="#231f20"/>
<rect x="152.00" y="424.00" width="1.20" height="5.10" fill="#231f20"/>
<rect x="178.00" y="424.00" width="1.20" height="5.10" fill="#231f20"/>
<rect x="184.20" y="424.00" width="3.40" height="5.10" fill="#231f20"/>
<rect x="191.00" y="424.00" width="1.20" height="5.10" fill="#231f20"/>
<rect x="197.20" y="424.00" width="1.20" height="5.10" fill="#231f20"/>
<rect x="208.60" y="424.00" width="1.20" height="5.10" fill="#231f20"/>
<rect x="236.30" y="424.00" width="1.30" height="5.10" fill="#231f20"/>
<rect x="252.20" y="424.00" width="6.90" height="5.10" fill="#231f20"/>
<rect x="261.00" y="424.00" width="2.70" height="5.10" fill="#231f20"/>
<rect x="270.20" y="424.00" width="0.70" height="5.10" fill="#231f20"/>
<rect x="273.30" y="424.00" width="3.40" height="5.10" fill="#231f20"/>
<rect x="280.00" y="424.00" width="2.00" height="5.10" fill="#231f20"/>
<rect x="290.50" y="424.00" width="3.80" height="5.10" fill="#231f20"/>
<rect x="299.60" y="424.00" width="18.10" height="5.10" fill="#231f20"/>
<rect x="326.40" y="424.00" width="2.00" height="5.10" fill="#231f20"/>
<rect x="330.50" y="424.00" width="2.00" height="5.10" fill="#231f20"/>
<rect x="331.20" y="424.00" width="1.90" height="5.10" fill="#231f20"/>
<rect x="348.00" y="424.00" width="3.40" height="5.10" fill="#231f20"/>
<rect x="354.20" y="424.00" width="5.60" height="5.10" fill="#231f20"/>
<rect x="364.00" y="424.00" width="16.50" height="5.10" fill="#231f20"/>
<rect x="403.60" y="424.00" width="1.40" height="5.10" fill="#231f20"/>
<rect x="404.60" y="424.00" width="2.60" height="5.10" fill="#231f20"/>
<rect x="418.40" y="424.00" width="20.00" height="5.10" fill="#231f20"/>
<rect x="442.80" y="424.00" width="7.30" height="5.10" fill="#231f20"/>
<rect x="454.80" y="424.00" width="2.10" height="5.10" fill="#231f20"/>
<rect x="462.00" y="424.00" width="3.70" height="5.10" fill="#231f20"/>
<rect x="469.00" y="424.00" width="5.30" height="5.10" fill="#231f20"/>
<rect x="137.80" y="424.00" width="1.00" height="5.10" fill="#999999"/>
<rect x="386.90" y="424.00" width="0.80" height="5.10" fill="#666666"/>
<rect x="176.90" y="436.00" width="2.10" height="4.70" fill="#ef5b25"/>
<rect x="183.80" y="436.00" width="4.20" height="4.70" fill="#ef5b25"/>
<rect x="208.90" y="436.00" width="1.00" height="4.70" fill="#ef5b25"/>
<rect x="91.00" y="462.00" width="1.20" height="4.70" fill="#ef5b25"/>
<rect x="273.30" y="462.00" width="3.60" height="4.70" fill="#ef5b25"/>
<rect x="280.30" y="462.00" width="1.80" height="4.70" fill="#ef5b25"/>
<rect x="290.20" y="462.00" width="3.90" height="4.70" fill="#ef5b25"/>
<rect x="299.80" y="462.00" width="18.20" height="4.70" fill="#ef5b25"/>
<rect x="354.40" y="462.00" width="5.20" height="4.70" fill="#ef5b25"/>
<rect x="404.40" y="462.00" width="2.80" height="4.70" fill="#ef5b25"/>
<rect x="443.10" y="462.00" width="7.20" height="4.70" fill="#ef5b25"/>
<rect x="270.05" y="510.40" width="0.70" height="4.90" fill="#ef5b25"/>
<rect x="386.85" y="510.40" width="0.70" height="4.90" fill="#ef5b25"/>
<rect x="236.00" y="556.20" width="1.40" height="4.70" fill="#ef5b25"/>
<path d="M99.50,459.30 L99.50,458.94 L99.75,458.77 L100.00,458.70 L100.25,458.77 L100.50,458.94 L100.50,459.30 Z" fill="#2c4c9c"/>
<path d="M103.50,459.30 L103.50,459.03 L103.75,458.81 L104.00,458.70 L104.25,458.81 L104.50,459.03 L104.50,459.30 Z" fill="#2c4c9c"/>
<path d="M111.50,459.30 L111.50,459.04 L111.75,458.75 L112.00,457.61 L112.25,452.42 L112.50,444.08 L112.70,440.80 L112.75,441.02 L113.00,447.38 L113.25,453.59 L113.50,453.30 L113.75,453.59 L114.00,454.36 L114.25,455.43 L114.50,456.55 L114.75,457.53 L115.00,458.27 L115.25,458.75 L115.50,459.04 L115.50,459.30 Z" fill="#2c4c9c"/>
<path d="M130.50,459.30 L130.50,458.91 L130.75,458.15 L131.00,456.67 L131.25,454.63 L131.50,452.84 L131.70,452.30 L131.75,452.33 L132.00,453.45 L132.25,455.48 L132.40,456.67 L132.50,457.32 L132.75,457.48 L133.00,457.79 L133.25,458.16 L133.50,458.52 L133.75,458.82 L134.00,459.03 L134.00,459.30 Z" fill="#2c4c9c"/>
<path d="M177.50,459.30 L177.50,458.69 L177.75,457.84 L178.00,456.57 L178.25,455.33 L178.50,454.80 L178.75,455.33 L179.00,456.57 L179.25,457.84 L179.50,458.69 L179.50,459.30 Z" fill="#2c4c9c"/>
<path d="M180.25,459.30 L180.25,458.31 L180.50,454.73 L180.75,447.88 L181.00,443.80 L181.25,447.88 L181.50,454.73 L181.75,455.36 L182.00,454.01 L182.25,453.32 L182.30,453.30 L182.50,453.62 L182.75,454.77 L183.00,455.77 L183.25,455.42 L183.50,455.30 L183.75,455.42 L184.00,455.77 L184.25,456.28 L184.50,454.58 L184.75,447.51 L185.00,443.30 L185.25,447.51 L185.50,454.58 L185.75,454.02 L186.00,452.68 L186.20,452.30 L186.25,452.32 L186.50,453.12 L186.75,454.70 L187.00,456.42 L187.25,457.79 L187.50,458.63 L187.75,459.05 L187.75,459.30 Z" fill="#2c4c9c"/>
<path d="M208.00,459.30 L208.00,458.69 L208.25,457.84 L208.50,456.57 L208.75,455.33 L209.00,454.80 L209.25,455.33 L209.50,456.57 L209.75,457.84 L210.00,458.69 L210.00,459.30 Z" fill="#2c4c9c"/>
<path d="M289.50,459.30 L289.50,459.00 L289.75,458.86 L290.00,458.80 L290.25,458.86 L290.50,459.00 L290.50,459.30 Z" fill="#2c4c9c"/>
<path d="M319.50,459.30 L319.50,458.94 L319.75,458.77 L320.00,458.70 L320.25,458.77 L320.50,458.94 L320.50,459.30 Z" fill="#2c4c9c"/>
<path d="M339.50,459.30 L339.50,458.94 L339.75,458.77 L340.00,458.70 L340.25,458.77 L340.50,458.94 L340.50,459.30 Z" fill="#2c4c9c"/>
<path d="M351.75,459.30 L351.75,459.07 L352.00,458.69 L352.25,457.92 L352.50,456.67 L352.75,455.10 L353.00,453.65 L353.25,452.92 L353.30,452.90 L353.50,453.25 L353.75,454.47 L354.00,456.06 L354.25,456.88 L354.50,456.80 L354.75,456.88 L355.00,457.09 L355.25,457.41 L355.50,457.78 L355.75,458.16 L356.00,458.49 L356.25,458.76 L356.50,458.96 L356.50,459.30 Z" fill="#2c4c9c"/>
<path d="M359.25,459.30 L359.25,459.04 L359.50,458.81 L359.75,458.59 L360.00,458.50 L360.25,458.59 L360.50,458.81 L360.75,459.04 L360.75,459.30 Z" fill="#2c4c9c"/>
<path d="M365.25,459.30 L365.25,458.98 L365.50,458.69 L365.75,458.42 L366.00,458.30 L366.25,458.42 L366.50,458.69 L366.75,458.98 L366.75,459.30 Z" fill="#2c4c9c"/>
<path d="M369.00,459.30 L369.00,459.05 L369.25,458.84 L369.50,458.59 L369.75,458.38 L370.00,458.30 L370.25,458.38 L370.50,458.59 L370.75,458.84 L371.00,458.93 L371.25,458.61 L371.50,458.24 L371.75,457.92 L372.00,457.80 L372.25,457.92 L372.50,458.24 L372.75,458.61 L373.00,458.93 L373.25,458.98 L373.50,458.69 L373.75,458.42 L374.00,458.30 L374.25,458.42 L374.50,458.69 L374.75,458.98 L375.00,459.03 L375.25,458.65 L375.50,458.09 L375.75,457.54 L376.00,457.30 L376.25,457.54 L376.50,458.09 L376.75,458.31 L377.00,454.73 L377.25,447.88 L377.50,443.80 L377.75,447.88 L378.00,454.73 L378.25,454.54 L378.50,454.30 L378.75,454.54 L379.00,455.19 L379.25,456.08 L379.50,457.01 L379.75,457.82 L380.00,457.75 L380.25,454.35 L380.50,450.73 L380.60,450.30 L380.75,451.24 L381.00,455.18 L381.25,457.93 L381.50,457.18 L381.75,456.55 L382.00,456.30 L382.25,456.55 L382.50,457.18 L382.75,457.93 L383.00,458.55 L383.25,458.96 L383.25,459.30 Z" fill="#2c4c9c"/>
<path d="M389.25,459.30 L389.25,459.03 L389.50,458.88 L389.75,458.75 L390.00,458.70 L390.25,458.75 L390.50,458.88 L390.75,459.03 L390.75,459.30 Z" fill="#2c4c9c"/>
<path d="M423.25,459.30 L423.25,459.06 L423.50,458.74 L423.75,458.20 L424.00,457.48 L424.25,456.77 L424.50,456.34 L424.60,456.30 L424.75,456.39 L425.00,456.90 L425.25,457.63 L425.50,458.33 L425.75,458.82 L425.75,459.30 Z" fill="#2c4c9c"/>
<path d="M433.25,459.30 L433.25,458.97 L433.50,458.55 L433.75,457.97 L434.00,457.45 L434.20,457.30 L434.25,457.31 L434.50,457.63 L434.75,458.21 L435.00,458.74 L435.25,459.08 L435.25,459.30 Z" fill="#2c4c9c"/>
<path d="M437.75,459.30 L437.75,458.98 L438.00,458.41 L438.25,457.37 L438.50,456.03 L438.75,455.00 L438.90,454.80 L439.00,454.89 L439.25,455.78 L439.50,457.11 L439.75,458.24 L440.00,458.90 L440.00,459.30 Z" fill="#2c4c9c"/>
<path d="M447.00,459.30 L447.00,459.03 L447.25,458.65 L447.50,458.09 L447.75,457.54 L448.00,457.30 L448.25,457.54 L448.50,458.09 L448.75,458.65 L449.00,459.03 L449.00,459.30 Z" fill="#2c4c9c"/>
<path d="M453.75,459.30 L453.75,458.99 L454.00,458.45 L454.25,457.45 L454.50,456.18 L454.75,455.19 L454.90,455.00 L455.00,455.09 L455.25,455.93 L455.50,457.21 L455.75,458.29 L456.00,458.92 L456.00,459.30 Z" fill="#2c4c9c"/>
<path d="M460.75,459.30 L460.75,458.95 L461.00,458.57 L461.25,458.13 L461.50,457.83 L461.60,457.80 L461.75,457.87 L462.00,458.21 L462.25,458.66 L462.50,459.00 L462.50,459.30 Z" fill="#2c4c9c"/>
<path d="M468.00,459.30 L468.00,459.10 L468.25,458.81 L468.50,458.39 L468.75,457.98 L469.00,457.80 L469.25,457.98 L469.50,458.39 L469.75,457.70 L470.00,456.83 L470.25,456.09 L470.50,455.80 L470.75,456.09 L471.00,456.83 L471.25,457.70 L471.50,457.41 L471.70,457.30 L471.75,457.31 L472.00,457.54 L472.25,457.99 L472.50,458.48 L472.75,458.87 L472.75,459.30 Z" fill="#2c4c9c"/>
<path d="M91.50,485.30 L91.50,484.93 L91.75,484.64 L92.00,484.50 L92.25,484.64 L92.50,484.93 L92.50,485.30 Z" fill="#2c4c9c"/>
<path d="M111.00,485.30 L111.00,485.03 L111.25,484.78 L111.50,484.35 L111.75,483.71 L112.00,479.99 L112.25,472.03 L112.50,467.30 L112.75,472.03 L113.00,478.68 L113.25,478.31 L113.30,478.30 L113.50,478.47 L113.75,479.12 L114.00,480.13 L114.25,481.29 L114.50,482.42 L114.75,483.39 L115.00,484.12 L115.25,484.63 L115.50,484.95 L115.50,485.30 Z" fill="#2c4c9c"/>
<path d="M130.75,485.30 L130.75,484.95 L131.00,483.68 L131.25,481.25 L131.50,479.80 L131.75,481.25 L132.00,483.38 L132.20,483.30 L132.25,483.31 L132.50,483.48 L132.75,483.83 L133.00,484.26 L133.25,484.65 L133.50,484.94 L133.50,485.30 Z" fill="#2c4c9c"/>
<path d="M147.25,485.30 L147.25,484.98 L147.50,484.69 L147.75,484.42 L148.00,484.30 L148.25,484.42 L148.50,484.69 L148.75,484.98 L148.75,485.30 Z" fill="#2c4c9c"/>
<path d="M176.25,485.30 L176.25,484.98 L176.50,484.69 L176.75,484.42 L177.00,484.30 L177.25,484.42 L177.50,484.69 L177.75,484.98 L177.75,485.30 Z" fill="#2c4c9c"/>
<path d="M180.00,485.30 L180.00,484.97 L180.25,484.13 L180.50,482.03 L180.75,478.21 L181.00,473.32 L181.25,469.53 L181.40,468.80 L181.50,469.13 L181.75,472.39 L182.00,477.27 L182.25,479.31 L182.30,479.30 L182.50,479.48 L182.75,480.18 L183.00,481.21 L183.25,482.34 L183.50,483.35 L183.75,483.84 L184.00,482.57 L184.25,481.33 L184.50,480.80 L184.75,481.33 L185.00,482.57 L185.25,483.84 L185.50,484.69 L185.50,485.30 Z" fill="#2c4c9c"/>
<path d="M249.75,485.30 L249.75,485.06 L250.00,484.98 L250.25,484.88 L250.50,484.76 L250.75,484.61 L251.00,484.43 L251.25,484.23 L251.50,483.55 L251.75,482.10 L252.00,480.35 L252.25,478.88 L252.50,478.30 L252.75,478.88 L253.00,480.35 L253.25,482.01 L253.50,481.77 L253.75,481.57 L254.00,479.23 L254.25,476.48 L254.50,475.30 L254.75,476.48 L255.00,479.23 L255.25,481.57 L255.50,481.77 L255.75,481.64 L256.00,479.65 L256.25,477.97 L256.50,477.30 L256.75,477.97 L257.00,479.65 L257.25,481.64 L257.50,482.27 L257.75,480.89 L258.00,480.30 L258.25,480.89 L258.50,482.27 L258.75,483.68 L259.00,484.62 L259.25,484.65 L259.50,484.33 L259.75,483.93 L260.00,483.48 L260.25,483.04 L260.50,482.65 L260.75,482.39 L261.00,480.45 L261.25,478.24 L261.50,477.30 L261.75,478.24 L262.00,480.45 L262.25,482.70 L262.50,484.22 L262.75,484.65 L263.00,484.89 L263.25,485.06 L263.25,485.30 Z" fill="#2c4c9c"/>
<path d="M272.00,485.30 L272.00,484.98 L272.25,484.79 L272.50,484.57 L272.75,484.35 L273.00,484.18 L273.25,484.10 L273.30,484.10 L273.50,484.14 L273.75,484.28 L274.00,484.48 L274.25,484.71 L274.50,484.91 L274.75,485.07 L274.75,485.30 Z" fill="#2c4c9c"/>
<path d="M279.25,485.30 L279.25,484.75 L279.50,483.91 L279.75,482.57 L280.00,481.12 L280.25,480.32 L280.30,480.30 L280.50,480.68 L280.75,481.97 L281.00,483.30 L281.25,483.40 L281.50,483.65 L281.75,484.01 L282.00,484.38 L282.25,484.71 L282.50,484.96 L282.50,485.30 Z" fill="#2c4c9c"/>
<path d="M291.25,485.30 L291.25,485.04 L291.50,484.49 L291.75,483.35 L292.00,481.66 L292.25,480.01 L292.50,479.30 L292.75,480.01 L293.00,481.66 L293.25,482.31 L293.30,482.30 L293.50,482.39 L293.75,482.74 L294.00,483.25 L294.25,483.82 L294.50,484.33 L294.75,484.72 L295.00,484.99 L295.00,485.30 Z" fill="#2c4c9c"/>
<path d="M300.00,485.30 L300.00,485.07 L300.25,484.96 L300.50,484.80 L300.75,484.61 L301.00,484.38 L301.25,484.14 L301.50,483.89 L301.75,483.65 L302.00,483.47 L302.25,483.34 L302.50,483.30 L302.75,483.34 L303.00,483.47 L303.25,482.72 L303.50,482.01 L303.75,481.49 L304.00,481.30 L304.25,480.92 L304.50,477.11 L304.75,473.39 L305.00,471.80 L305.25,473.39 L305.50,477.11 L305.75,477.68 L306.00,477.30 L306.25,477.68 L306.50,478.72 L306.75,480.14 L307.00,481.64 L307.25,482.65 L307.50,482.46 L307.75,482.34 L308.00,482.30 L308.25,482.34 L308.50,482.46 L308.75,482.65 L309.00,482.90 L309.25,483.18 L309.50,483.48 L309.75,483.78 L310.00,484.07 L310.25,484.07 L310.50,483.92 L310.75,483.83 L311.00,483.80 L311.25,483.83 L311.50,483.92 L311.75,484.07 L312.00,484.24 L312.25,484.43 L312.50,484.61 L312.75,484.59 L313.00,484.50 L313.25,484.42 L313.50,484.35 L313.75,484.31 L314.00,484.30 L314.25,484.31 L314.50,484.35 L314.75,484.42 L315.00,484.50 L315.25,484.59 L315.50,484.69 L315.75,484.79 L316.00,484.89 L316.25,484.98 L316.50,485.05 L316.50,485.30 Z" fill="#2c4c9c"/>
<path d="M329.75,485.30 L329.75,485.03 L330.00,484.78 L330.25,484.41 L330.50,483.93 L330.75,483.37 L331.00,482.83 L331.25,482.44 L331.50,482.30 L331.75,482.44 L332.00,482.83 L332.25,482.48 L332.50,481.43 L332.75,480.61 L333.00,480.30 L333.25,480.61 L333.50,481.43 L333.75,482.44 L334.00,482.30 L334.25,482.44 L334.50,482.83 L334.75,483.37 L335.00,483.93 L335.25,484.41 L335.50,484.78 L335.75,485.03 L335.75,485.30 Z" fill="#2c4c9c"/>
<path d="M347.00,485.30 L347.00,485.03 L347.25,484.42 L347.50,483.08 L347.75,480.93 L348.00,478.62 L348.25,477.34 L348.30,477.30 L348.50,477.92 L348.75,479.96 L349.00,482.30 L349.25,482.44 L349.50,482.83 L349.75,483.37 L350.00,483.93 L350.25,484.41 L350.50,484.78 L350.75,485.03 L350.75,485.30 Z" fill="#2c4c9c"/>
<path d="M353.00,485.30 L353.00,485.06 L353.25,484.84 L353.50,484.50 L353.75,484.03 L354.00,483.48 L354.25,482.93 L354.50,482.50 L354.75,482.31 L354.80,482.30 L355.00,482.39 L355.25,482.74 L355.50,483.14 L355.75,481.92 L356.00,480.65 L356.25,479.67 L356.50,479.30 L356.75,479.67 L357.00,480.65 L357.25,481.92 L357.50,482.30 L357.75,482.44 L358.00,482.83 L358.25,483.37 L358.50,483.93 L358.75,484.41 L359.00,484.78 L359.25,485.03 L359.25,485.30 Z" fill="#2c4c9c"/>
<path d="M364.00,485.30 L364.00,485.05 L364.25,484.84 L364.50,484.59 L364.75,484.38 L365.00,484.30 L365.25,484.38 L365.50,484.59 L365.75,484.84 L366.00,485.05 L366.00,485.30 Z" fill="#2c4c9c"/>
<path d="M371.75,485.30 L371.75,484.95 L372.00,484.57 L372.25,484.13 L372.50,483.83 L372.60,483.80 L372.75,483.87 L373.00,484.21 L373.25,484.66 L373.50,485.00 L373.50,485.30 Z" fill="#2c4c9c"/>
<path d="M377.25,485.30 L377.25,484.84 L377.50,484.30 L377.75,483.47 L378.00,482.47 L378.25,481.63 L378.50,481.30 L378.75,481.63 L379.00,482.47 L379.25,483.47 L379.50,482.27 L379.75,480.89 L380.00,480.30 L380.25,480.89 L380.50,482.27 L380.75,482.02 L381.00,480.29 L381.25,479.33 L381.30,479.30 L381.50,479.76 L381.75,481.30 L382.00,483.05 L382.25,484.31 L382.50,484.96 L382.50,485.30 Z" fill="#2c4c9c"/>
<path d="M403.00,485.30 L403.00,485.06 L403.25,484.82 L403.50,484.43 L403.75,483.88 L404.00,483.18 L404.25,482.42 L404.50,481.77 L404.75,481.37 L404.90,481.30 L405.00,481.33 L405.25,481.67 L405.50,482.28 L405.75,483.03 L406.00,483.75 L406.25,483.85 L406.50,483.98 L406.75,484.17 L407.00,484.39 L407.25,484.61 L407.50,484.81 L407.75,484.98 L408.00,485.10 L408.00,485.30 Z" fill="#2c4c9c"/>
<path d="M417.25,485.30 L417.25,485.03 L417.50,484.78 L417.75,484.41 L418.00,483.93 L418.25,483.37 L418.50,482.83 L418.75,482.44 L419.00,482.30 L419.25,482.44 L419.50,482.83 L419.75,482.72 L420.00,482.01 L420.25,481.49 L420.50,481.30 L420.75,481.49 L421.00,482.01 L421.25,482.72 L421.50,483.47 L421.75,483.36 L422.00,483.30 L422.25,483.36 L422.50,483.54 L422.75,483.79 L423.00,484.09 L423.25,484.38 L423.50,484.65 L423.75,484.87 L424.00,485.03 L424.00,485.30 Z" fill="#2c4c9c"/>
<path d="M430.25,485.30 L430.25,484.69 L430.50,483.77 L430.75,482.30 L431.00,480.71 L431.25,479.83 L431.30,479.80 L431.50,480.22 L431.75,481.63 L432.00,483.24 L432.25,483.47 L432.50,482.47 L432.75,481.63 L433.00,481.30 L433.25,481.63 L433.50,482.47 L433.75,483.47 L434.00,484.30 L434.25,484.84 L434.50,484.56 L434.75,483.51 L435.00,481.96 L435.25,480.45 L435.50,479.80 L435.75,480.45 L436.00,481.96 L436.25,483.51 L436.50,484.56 L436.75,485.06 L436.75,485.30 Z" fill="#2c4c9c"/>
<path d="M437.50,485.30 L437.50,485.08 L437.75,484.61 L438.00,483.38 L438.25,481.13 L438.50,478.26 L438.75,476.03 L438.90,475.60 L439.00,475.79 L439.25,477.71 L439.50,480.30 L439.75,480.54 L440.00,481.19 L440.25,482.08 L440.50,483.01 L440.75,483.82 L441.00,484.44 L441.25,484.84 L441.50,485.08 L441.50,485.30 Z" fill="#2c4c9c"/>
<path d="M443.50,485.30 L443.50,484.82 L443.75,484.22 L444.00,483.24 L444.25,482.02 L444.50,480.89 L444.75,480.32 L444.80,480.30 L445.00,480.57 L445.25,481.53 L445.50,482.77 L445.75,483.40 L446.00,483.30 L446.25,483.40 L446.50,483.65 L446.75,484.01 L447.00,484.38 L447.25,484.71 L447.50,484.96 L447.50,485.30 Z" fill="#2c4c9c"/>
<path d="M452.75,485.30 L452.75,484.84 L453.00,484.30 L453.25,483.47 L453.50,482.47 L453.75,481.63 L454.00,481.30 L454.25,481.63 L454.50,482.47 L454.75,483.40 L455.00,483.30 L455.25,483.40 L455.50,483.65 L455.75,484.01 L456.00,484.38 L456.25,484.71 L456.50,484.96 L456.50,485.30 Z" fill="#2c4c9c"/>
<path d="M459.00,485.30 L459.00,485.05 L459.25,484.84 L459.50,484.59 L459.75,484.38 L460.00,484.30 L460.25,484.38 L460.50,484.59 L460.75,484.84 L461.00,485.00 L461.25,484.75 L461.50,484.45 L461.75,484.20 L462.00,484.10 L462.25,484.20 L462.50,484.45 L462.75,484.75 L463.00,485.00 L463.00,485.30 Z" fill="#2c4c9c"/>
<path d="M466.50,485.30 L466.50,484.96 L466.75,484.71 L467.00,484.38 L467.25,484.01 L467.50,483.65 L467.75,483.40 L468.00,483.30 L468.25,483.40 L468.50,483.65 L468.75,484.01 L469.00,484.04 L469.25,483.33 L469.50,482.59 L469.75,482.02 L470.00,481.80 L470.25,482.02 L470.50,482.59 L470.75,483.33 L471.00,484.04 L471.25,484.46 L471.50,484.14 L471.75,483.89 L472.00,483.80 L472.25,483.89 L472.50,484.14 L472.75,484.46 L473.00,484.76 L473.25,485.00 L473.25,485.30 Z" fill="#2c4c9c"/>
<path d="M474.75,485.30 L474.75,485.00 L475.00,484.84 L475.25,484.66 L475.50,484.48 L475.75,484.35 L476.00,484.30 L476.25,484.35 L476.50,484.48 L476.75,484.66 L477.00,484.84 L477.25,485.00 L477.25,485.30 Z" fill="#2c4c9c"/>
<path d="M478.75,485.30 L478.75,485.06 L479.00,484.93 L479.25,484.78 L479.50,484.64 L479.75,484.54 L480.00,484.50 L480.25,484.54 L480.50,484.64 L480.75,484.78 L481.00,484.93 L481.25,485.06 L481.25,485.30 Z" fill="#2c4c9c"/>
<path d="M99.50,508.30 L99.50,508.07 L99.75,507.89 L100.00,507.80 L100.25,507.89 L100.50,508.07 L100.50,508.30 Z" fill="#2c4c9c"/>
<path d="M111.00,508.30 L111.00,508.03 L111.25,507.78 L111.50,507.35 L111.75,506.71 L112.00,502.69 L112.25,494.30 L112.50,489.30 L112.75,494.30 L113.00,501.68 L113.25,501.31 L113.30,501.30 L113.50,501.47 L113.75,502.12 L114.00,503.13 L114.25,504.29 L114.50,505.42 L114.75,506.39 L115.00,507.12 L115.25,507.63 L115.50,507.95 L115.50,508.30 Z" fill="#2c4c9c"/>
<path d="M130.50,508.30 L130.50,508.10 L130.75,507.81 L131.00,507.39 L131.25,506.98 L131.50,506.80 L131.75,506.98 L132.00,507.39 L132.25,507.81 L132.50,508.10 L132.50,508.30 Z" fill="#2c4c9c"/>
<path d="M149.50,508.30 L149.50,508.07 L149.75,507.89 L150.00,507.80 L150.25,507.89 L150.50,508.07 L150.50,508.30 Z" fill="#2c4c9c"/>
<path d="M180.00,508.30 L180.00,508.09 L180.25,507.55 L180.50,506.22 L180.75,503.79 L181.00,500.68 L181.25,498.26 L181.40,497.80 L181.50,498.01 L181.75,500.08 L182.00,503.19 L182.25,504.31 L182.30,504.30 L182.50,504.42 L182.75,504.89 L183.00,505.57 L183.25,506.32 L183.50,507.00 L183.75,507.53 L184.00,507.39 L184.25,506.98 L184.50,506.80 L184.75,506.98 L185.00,507.39 L185.25,507.81 L185.50,508.10 L185.50,508.30 Z" fill="#2c4c9c"/>
<path d="M252.75,508.30 L252.75,507.84 L253.00,507.30 L253.25,506.47 L253.50,505.47 L253.75,504.63 L254.00,504.30 L254.25,504.63 L254.50,505.47 L254.75,506.47 L255.00,507.30 L255.25,507.73 L255.50,507.05 L255.75,506.01 L256.00,504.77 L256.25,503.72 L256.50,503.30 L256.75,503.72 L257.00,504.77 L257.25,506.01 L257.50,507.05 L257.75,507.73 L258.00,508.08 L258.00,508.30 Z" fill="#2c4c9c"/>
<path d="M260.00,508.30 L260.00,508.10 L260.25,507.64 L260.50,506.63 L260.75,505.02 L261.00,503.29 L261.25,502.33 L261.30,502.30 L261.50,502.76 L261.75,504.30 L262.00,505.30 L262.25,505.44 L262.50,505.83 L262.75,506.37 L263.00,506.93 L263.25,507.41 L263.50,507.78 L263.75,508.03 L263.75,508.30 Z" fill="#2c4c9c"/>
<path d="M289.50,508.30 L289.50,508.00 L289.75,507.86 L290.00,507.80 L290.25,507.86 L290.50,508.00 L290.50,508.30 Z" fill="#2c4c9c"/>
<path d="M303.75,508.30 L303.75,507.96 L304.00,507.55 L304.25,506.93 L304.50,506.18 L304.75,505.55 L305.00,505.30 L305.25,505.55 L305.50,506.18 L305.75,506.85 L306.00,506.80 L306.25,506.85 L306.50,506.98 L306.75,507.17 L307.00,507.39 L307.25,507.61 L307.50,507.81 L307.75,507.98 L308.00,508.10 L308.00,508.30 Z" fill="#2c4c9c"/>
<path d="M319.50,508.30 L319.50,508.00 L319.75,507.86 L320.00,507.80 L320.25,507.86 L320.50,508.00 L320.50,508.30 Z" fill="#2c4c9c"/>
<path d="M330.75,508.30 L330.75,507.99 L331.00,507.77 L331.25,507.45 L331.50,507.09 L331.75,506.72 L332.00,506.44 L332.25,506.30 L332.30,506.30 L332.50,506.36 L332.75,506.59 L333.00,506.18 L333.25,505.55 L333.50,505.30 L333.75,505.55 L334.00,506.18 L334.25,506.93 L334.50,507.55 L334.75,507.96 L334.75,508.30 Z" fill="#2c4c9c"/>
<path d="M347.50,508.30 L347.50,507.91 L347.75,507.15 L348.00,505.67 L348.25,503.63 L348.50,501.84 L348.70,501.30 L348.75,501.33 L349.00,502.45 L349.25,504.48 L349.50,505.80 L349.75,505.92 L350.00,506.24 L350.25,506.69 L350.50,507.16 L350.75,507.56 L351.00,507.87 L351.25,508.07 L351.25,508.30 Z" fill="#2c4c9c"/>
<path d="M370.00,508.30 L370.00,507.97 L370.25,507.54 L370.50,506.86 L370.75,506.00 L371.00,505.21 L371.25,504.81 L371.30,504.80 L371.50,504.99 L371.75,505.66 L372.00,506.53 L372.25,506.87 L372.50,507.07 L372.75,507.33 L373.00,507.61 L373.25,507.86 L373.50,508.04 L373.50,508.30 Z" fill="#2c4c9c"/>
<path d="M380.50,508.30 L380.50,507.93 L380.75,507.61 L381.00,507.24 L381.25,506.92 L381.50,506.80 L381.75,506.92 L382.00,507.24 L382.25,507.61 L382.50,507.57 L382.75,507.24 L383.00,507.10 L383.25,507.24 L383.50,507.57 L383.75,507.91 L383.75,508.30 Z" fill="#2c4c9c"/>
<path d="M416.75,508.30 L416.75,508.06 L417.00,507.93 L417.25,507.78 L417.50,507.64 L417.75,507.54 L418.00,507.50 L418.25,507.54 L418.50,507.64 L418.75,507.78 L419.00,507.93 L419.25,508.06 L419.25,508.30 Z" fill="#2c4c9c"/>
<path d="M421.75,508.30 L421.75,508.00 L422.00,507.84 L422.25,507.66 L422.50,507.48 L422.75,507.35 L423.00,507.30 L423.25,507.35 L423.50,507.48 L423.75,507.66 L424.00,507.84 L424.25,508.00 L424.25,508.30 Z" fill="#2c4c9c"/>
<path d="M430.25,508.30 L430.25,508.08 L430.50,507.98 L430.75,507.84 L431.00,507.69 L431.25,507.55 L431.50,507.42 L431.75,507.33 L432.00,507.30 L432.25,507.33 L432.50,507.42 L432.75,507.55 L433.00,507.69 L433.25,507.84 L433.50,507.98 L433.75,508.08 L433.75,508.30 Z" fill="#2c4c9c"/>
<path d="M434.50,508.30 L434.50,508.04 L434.75,507.93 L435.00,507.81 L435.25,507.70 L435.50,507.59 L435.75,507.52 L436.00,507.50 L436.25,507.52 L436.50,507.59 L436.75,507.70 L437.00,507.81 L437.25,507.93 L437.50,508.04 L437.50,508.30 Z" fill="#2c4c9c"/>
<path d="M466.75,508.30 L466.75,508.00 L467.00,507.84 L467.25,507.66 L467.50,507.48 L467.75,507.35 L468.00,507.30 L468.25,507.35 L468.50,507.48 L468.75,507.66 L469.00,507.18 L469.25,506.24 L469.50,505.12 L469.75,504.17 L470.00,503.80 L470.25,504.17 L470.50,505.12 L470.75,505.44 L471.00,505.30 L471.25,505.44 L471.50,505.83 L471.75,506.37 L472.00,506.93 L472.25,507.41 L472.50,507.78 L472.75,508.03 L472.75,508.30 Z" fill="#2c4c9c"/>
<path d="M475.25,508.30 L475.25,507.93 L475.50,507.73 L475.75,507.57 L476.00,507.50 L476.25,507.57 L476.50,507.73 L476.75,507.93 L476.75,508.30 Z" fill="#2c4c9c"/>
<path d="M111.00,530.60 L111.00,530.33 L111.25,530.08 L111.50,529.65 L111.75,529.01 L112.00,525.14 L112.25,516.97 L112.50,512.10 L112.75,516.97 L113.00,523.98 L113.25,523.61 L113.30,523.60 L113.50,523.77 L113.75,524.42 L114.00,525.43 L114.25,526.59 L114.50,527.72 L114.75,528.69 L115.00,529.42 L115.25,529.93 L115.50,530.25 L115.50,530.60 Z" fill="#2c4c9c"/>
<path d="M130.75,530.60 L130.75,530.28 L131.00,529.12 L131.25,526.92 L131.50,525.60 L131.75,526.92 L132.00,529.12 L132.20,529.10 L132.25,529.10 L132.50,529.23 L132.75,529.50 L133.00,529.82 L133.25,530.11 L133.50,530.33 L133.50,530.60 Z" fill="#2c4c9c"/>
<path d="M180.00,530.60 L180.00,530.35 L180.25,529.71 L180.50,528.13 L180.75,525.23 L181.00,521.52 L181.25,518.65 L181.40,518.10 L181.50,518.35 L181.75,520.82 L182.00,524.52 L182.25,526.61 L182.30,526.60 L182.50,526.72 L182.75,527.19 L183.00,527.87 L183.25,528.62 L183.50,529.30 L183.75,529.83 L184.00,530.18 L184.25,530.39 L184.25,530.60 Z" fill="#2c4c9c"/>
<path d="M251.75,530.60 L251.75,530.20 L252.00,529.73 L252.25,529.00 L252.50,528.13 L252.75,527.39 L253.00,527.10 L253.25,527.39 L253.50,528.13 L253.75,529.00 L254.00,529.73 L254.25,529.23 L254.50,528.48 L254.75,527.85 L255.00,527.60 L255.25,527.85 L255.50,528.48 L255.75,529.23 L256.00,529.85 L256.25,529.30 L256.50,528.17 L256.75,527.07 L257.00,526.60 L257.25,527.07 L257.50,528.17 L257.75,529.30 L258.00,530.06 L258.00,530.60 Z" fill="#2c4c9c"/>
<path d="M260.25,530.60 L260.25,530.33 L260.50,530.08 L260.75,528.66 L261.00,525.12 L261.25,522.20 L261.30,522.10 L261.50,523.61 L261.75,527.44 L262.00,527.60 L262.25,527.74 L262.50,528.13 L262.75,528.67 L263.00,529.23 L263.25,529.71 L263.50,530.08 L263.75,530.33 L263.75,530.60 Z" fill="#2c4c9c"/>
<path d="M269.25,530.60 L269.25,530.23 L269.50,530.03 L269.75,529.87 L270.00,529.80 L270.25,529.87 L270.50,530.03 L270.75,530.23 L270.75,530.60 Z" fill="#2c4c9c"/>
<path d="M275.25,530.60 L275.25,530.23 L275.50,530.03 L275.75,529.87 L276.00,529.80 L276.25,529.87 L276.50,530.03 L276.75,530.23 L276.75,530.60 Z" fill="#2c4c9c"/>
<path d="M330.50,530.60 L330.50,530.36 L330.75,530.14 L331.00,529.80 L331.25,529.33 L331.50,528.78 L331.75,528.23 L332.00,527.80 L332.25,527.61 L332.30,527.60 L332.50,527.69 L332.75,528.04 L333.00,528.13 L333.25,527.39 L333.50,527.10 L333.75,527.39 L334.00,528.13 L334.25,529.00 L334.50,529.73 L334.75,530.20 L334.75,530.60 Z" fill="#2c4c9c"/>
<path d="M347.50,530.60 L347.50,530.19 L347.75,529.74 L348.00,529.08 L348.25,528.34 L348.50,527.76 L348.70,527.60 L348.75,527.61 L349.00,527.95 L349.25,528.63 L349.50,529.37 L349.75,529.95 L350.00,530.31 L350.00,530.60 Z" fill="#2c4c9c"/>
<path d="M362.75,530.60 L362.75,530.26 L363.00,529.85 L363.25,529.23 L363.50,528.48 L363.75,527.85 L364.00,527.60 L364.25,527.85 L364.50,528.48 L364.75,529.23 L365.00,529.85 L365.25,529.68 L365.50,529.19 L365.75,528.77 L366.00,528.60 L366.25,528.77 L366.50,529.19 L366.75,529.68 L367.00,530.10 L367.25,530.37 L367.50,530.20 L367.75,529.79 L368.00,529.16 L368.25,528.35 L368.50,527.50 L368.75,526.85 L369.00,526.60 L369.25,526.85 L369.50,527.50 L369.75,528.35 L370.00,529.16 L370.25,529.79 L370.50,530.20 L370.75,530.03 L371.00,529.35 L371.25,528.31 L371.50,527.07 L371.75,526.02 L372.00,525.60 L372.25,526.02 L372.50,527.07 L372.75,528.31 L373.00,529.35 L373.25,529.47 L373.50,529.05 L373.75,528.72 L374.00,528.60 L374.25,528.72 L374.50,529.05 L374.75,529.47 L375.00,529.88 L375.25,530.19 L375.50,530.40 L375.75,530.26 L376.00,529.85 L376.25,529.23 L376.50,528.48 L376.75,527.85 L377.00,527.60 L377.25,527.85 L377.50,528.48 L377.75,529.23 L378.00,529.85 L378.25,530.26 L378.25,530.60 Z" fill="#2c4c9c"/>
<path d="M378.75,530.60 L378.75,530.14 L379.00,529.60 L379.25,528.77 L379.50,527.77 L379.75,526.93 L380.00,526.60 L380.25,526.93 L380.50,527.77 L380.75,528.77 L381.00,528.72 L381.25,527.27 L381.50,525.98 L381.70,525.60 L381.75,525.62 L382.00,526.42 L382.25,527.87 L382.50,528.60 L382.75,528.70 L383.00,528.95 L383.25,529.31 L383.50,529.68 L383.75,530.01 L384.00,530.26 L384.00,530.60 Z" fill="#2c4c9c"/>
<path d="M420.00,530.60 L420.00,530.35 L420.25,530.14 L420.50,529.89 L420.75,529.68 L421.00,529.60 L421.25,529.68 L421.50,529.89 L421.75,530.14 L422.00,530.35 L422.00,530.60 Z" fill="#2c4c9c"/>
<path d="M422.50,530.60 L422.50,529.93 L422.75,528.63 L423.00,526.10 L423.25,522.60 L423.50,519.52 L423.70,518.60 L423.75,518.66 L424.00,520.58 L424.25,524.05 L424.50,525.60 L424.75,525.84 L425.00,526.49 L425.25,527.38 L425.50,528.10 L425.75,528.18 L426.00,528.39 L426.25,528.71 L426.50,529.08 L426.75,529.46 L427.00,529.79 L427.25,530.06 L427.50,530.26 L427.50,530.60 Z" fill="#2c4c9c"/>
<path d="M430.00,530.60 L430.00,530.22 L430.25,529.73 L430.50,528.96 L430.75,527.97 L431.00,527.07 L431.25,526.61 L431.30,526.60 L431.50,526.82 L431.75,527.58 L432.00,528.57 L432.25,528.99 L432.50,528.54 L432.75,528.22 L433.00,528.10 L433.25,528.22 L433.50,528.54 L433.75,528.99 L434.00,529.46 L434.25,529.86 L434.50,529.85 L434.75,529.23 L435.00,528.48 L435.25,527.85 L435.50,527.60 L435.75,527.85 L436.00,528.48 L436.25,529.23 L436.50,529.85 L436.75,529.68 L437.00,529.19 L437.25,528.77 L437.50,528.60 L437.75,528.77 L438.00,529.19 L438.25,528.88 L438.50,527.70 L438.75,526.78 L438.90,526.60 L439.00,526.68 L439.25,527.47 L439.50,528.65 L439.75,529.66 L440.00,530.24 L440.00,530.60 Z" fill="#2c4c9c"/>
<path d="M453.25,530.60 L453.25,530.31 L453.50,529.98 L453.75,529.46 L454.00,528.83 L454.25,528.31 L454.50,528.10 L454.75,528.31 L455.00,528.83 L455.25,529.46 L455.50,529.98 L455.75,530.31 L455.75,530.60 Z" fill="#2c4c9c"/>
<path d="M461.25,530.60 L461.25,530.21 L461.50,529.87 L461.75,529.54 L462.00,529.40 L462.25,529.54 L462.50,529.87 L462.75,530.21 L462.75,530.60 Z" fill="#2c4c9c"/>
<path d="M463.25,530.60 L463.25,530.28 L463.50,529.99 L463.75,529.72 L464.00,529.60 L464.25,529.72 L464.50,529.99 L464.75,530.28 L464.75,530.60 Z" fill="#2c4c9c"/>
<path d="M468.75,530.60 L468.75,530.09 L469.00,529.48 L469.25,528.54 L469.50,527.42 L469.75,526.47 L470.00,526.10 L470.25,526.47 L470.50,527.42 L470.75,528.54 L471.00,528.54 L471.25,528.22 L471.50,528.10 L471.75,528.22 L472.00,528.54 L472.25,528.99 L472.50,529.46 L472.75,529.86 L473.00,530.17 L473.25,530.37 L473.25,530.60 Z" fill="#2c4c9c"/>
<path d="M110.50,552.30 L110.50,551.92 L110.75,551.43 L111.00,550.66 L111.25,549.67 L111.50,548.77 L111.75,548.31 L111.80,548.30 L112.00,546.99 L112.25,539.03 L112.50,534.30 L112.75,539.03 L113.00,546.62 L113.25,546.31 L113.30,546.30 L113.50,546.45 L113.75,547.01 L114.00,547.87 L114.25,548.86 L114.50,549.83 L114.75,550.66 L115.00,551.29 L115.25,551.73 L115.50,552.00 L115.50,552.30 Z" fill="#2c4c9c"/>
<path d="M130.50,552.30 L130.50,551.69 L130.75,550.84 L131.00,549.57 L131.25,548.33 L131.50,547.80 L131.75,548.33 L132.00,549.57 L132.25,550.84 L132.50,551.69 L132.50,552.30 Z" fill="#2c4c9c"/>
<path d="M151.50,552.30 L151.50,552.07 L151.75,551.89 L152.00,551.80 L152.25,551.89 L152.50,552.07 L152.50,552.30 Z" fill="#2c4c9c"/>
<path d="M180.00,552.30 L180.00,552.06 L180.25,551.45 L180.50,549.93 L180.75,547.15 L181.00,543.59 L181.25,540.83 L181.40,540.30 L181.50,540.54 L181.75,542.91 L182.00,546.46 L182.20,547.30 L182.25,547.31 L182.50,547.64 L182.75,548.35 L183.00,549.27 L183.25,550.19 L183.50,550.96 L183.75,551.53 L184.00,551.90 L184.00,552.30 Z" fill="#2c4c9c"/>
<path d="M98.00,578.30 L98.00,577.85 L98.25,577.50 L98.50,577.19 L98.70,577.10 L98.75,577.11 L99.00,577.30 L99.25,577.64 L99.50,577.97 L99.50,578.30 Z" fill="#2c4c9c"/>
<path d="M108.50,578.30 L108.50,578.03 L108.75,577.81 L109.00,577.70 L109.25,577.81 L109.50,578.03 L109.50,578.30 Z" fill="#2c4c9c"/>
<path d="M111.00,578.30 L111.00,578.07 L111.25,577.85 L111.50,577.49 L111.75,576.94 L112.00,572.55 L112.25,563.93 L112.50,558.80 L112.75,563.93 L113.00,572.55 L113.25,572.31 L113.30,572.30 L113.50,572.45 L113.75,573.01 L114.00,573.87 L114.25,574.86 L114.50,575.83 L114.75,576.66 L115.00,577.29 L115.25,577.73 L115.50,578.00 L115.50,578.30 Z" fill="#2c4c9c"/>
<path d="M130.25,578.30 L130.25,578.06 L130.50,577.56 L130.75,576.51 L131.00,574.96 L131.25,573.45 L131.50,572.80 L131.75,573.45 L132.00,574.96 L132.25,576.51 L132.50,577.56 L132.75,578.06 L132.75,578.30 Z" fill="#2c4c9c"/>
<path d="M180.00,578.30 L180.00,577.97 L180.25,577.50 L180.50,576.68 L180.75,575.52 L181.00,574.30 L181.25,573.45 L181.40,573.30 L181.50,573.37 L181.75,574.08 L182.00,575.27 L182.25,576.47 L182.50,576.80 L182.75,576.87 L183.00,577.07 L183.25,577.33 L183.50,577.61 L183.75,577.86 L184.00,578.04 L184.00,578.30 Z" fill="#2c4c9c"/>
<path d="M185.50,578.30 L185.50,578.03 L185.75,577.81 L186.00,577.70 L186.25,577.81 L186.50,578.03 L186.50,578.30 Z" fill="#2c4c9c"/>
<path d="M209.50,578.30 L209.50,578.07 L209.75,577.89 L210.00,577.80 L210.25,577.89 L210.50,578.07 L210.50,578.30 Z" fill="#2c4c9c"/>
<path d="M229.50,578.30 L229.50,578.07 L229.75,577.89 L230.00,577.80 L230.25,577.89 L230.50,578.07 L230.50,578.30 Z" fill="#2c4c9c"/>
<path d="M235.00,578.30 L235.00,578.01 L235.25,577.56 L235.50,576.68 L235.75,575.32 L236.00,573.71 L236.25,572.34 L236.50,571.80 L236.75,572.34 L237.00,573.71 L237.25,575.32 L237.50,575.80 L237.75,575.89 L238.00,576.16 L238.25,576.53 L238.50,576.95 L238.75,577.35 L239.00,577.68 L239.25,577.92 L239.50,577.98 L239.75,577.72 L240.00,577.60 L240.25,577.72 L240.50,577.98 L240.50,578.30 Z" fill="#2c4c9c"/>
<path d="M111.25,602.00 L111.25,601.63 L111.50,601.32 L111.75,600.81 L112.00,596.54 L112.25,588.37 L112.50,583.50 L112.75,588.37 L113.00,596.54 L113.25,597.01 L113.30,597.00 L113.50,597.12 L113.75,597.59 L114.00,598.31 L114.25,599.14 L114.50,599.94 L114.75,600.63 L115.00,601.16 L115.25,601.52 L115.50,601.75 L115.50,602.00 Z" fill="#2c4c9c"/>
<path d="M130.75,602.00 L130.75,601.42 L131.00,599.34 L131.25,595.37 L131.50,593.00 L131.75,595.37 L132.00,599.34 L132.25,601.42 L132.25,602.00 Z" fill="#2c4c9c"/>
<path d="M178.75,602.00 L178.75,601.73 L179.00,601.48 L179.25,601.11 L179.50,600.63 L179.75,600.07 L180.00,599.53 L180.25,599.14 L180.50,599.00 L180.75,599.14 L181.00,594.35 L181.25,587.04 L181.40,585.30 L181.50,586.10 L181.75,592.82 L182.00,596.41 L182.25,596.01 L182.30,596.00 L182.50,596.18 L182.75,596.88 L183.00,597.91 L183.25,599.04 L183.50,600.05 L183.75,600.84 L184.00,601.37 L184.25,601.69 L184.25,602.00 Z" fill="#2c4c9c"/>
<path d="M231.50,602.00 L231.50,601.77 L231.75,601.59 L232.00,601.50 L232.25,601.59 L232.50,601.77 L232.50,602.00 Z" fill="#2c4c9c"/>
<line x1="95.10" y1="609.00" x2="95.10" y2="614.30" stroke="#666666" stroke-width="1.0"/>
<line x1="90.60" y1="617.00" x2="90.60" y2="623.10" stroke="#999999" stroke-width="0.9"/>
<line x1="92.60" y1="617.00" x2="92.60" y2="623.10" stroke="#999999" stroke-width="0.9"/>
<line x1="94.90" y1="617.00" x2="94.90" y2="623.10" stroke="#555555" stroke-width="0.9"/>
<line x1="99.00" y1="617.00" x2="99.00" y2="623.10" stroke="#231f20" stroke-width="0.9"/>
<line x1="100.20" y1="617.00" x2="100.20" y2="623.10" stroke="#231f20" stroke-width="0.9"/>
<line x1="106.60" y1="617.00" x2="106.60" y2="623.10" stroke="#888888" stroke-width="0.9"/>
<line x1="114.20" y1="617.00" x2="114.20" y2="623.10" stroke="#231f20" stroke-width="0.9"/>
<line x1="118.50" y1="617.00" x2="118.50" y2="623.10" stroke="#333333" stroke-width="0.9"/>
<line x1="123.30" y1="617.00" x2="123.30" y2="623.10" stroke="#231f20" stroke-width="0.9"/>
<line x1="125.00" y1="617.00" x2="125.00" y2="623.10" stroke="#222222" stroke-width="0.9"/>
<line x1="133.80" y1="617.00" x2="133.80" y2="623.10" stroke="#777777" stroke-width="0.9"/>
<line x1="135.00" y1="617.00" x2="135.00" y2="623.10" stroke="#555555" stroke-width="0.9"/>
<line x1="136.20" y1="617.00" x2="136.20" y2="623.10" stroke="#444444" stroke-width="0.9"/>
<line x1="141.40" y1="617.00" x2="141.40" y2="623.10" stroke="#231f20" stroke-width="0.9"/>
<line x1="142.40" y1="617.00" x2="142.40" y2="623.10" stroke="#333333" stroke-width="0.9"/>
<line x1="145.00" y1="617.00" x2="145.00" y2="623.10" stroke="#333333" stroke-width="0.9"/>
<line x1="151.00" y1="617.00" x2="151.00" y2="623.10" stroke="#888888" stroke-width="0.9"/>
<line x1="165.80" y1="617.00" x2="165.80" y2="623.10" stroke="#777777" stroke-width="0.9"/>
<line x1="167.00" y1="617.00" x2="167.00" y2="623.10" stroke="#888888" stroke-width="0.9"/>
<line x1="169.30" y1="617.00" x2="169.30" y2="623.10" stroke="#888888" stroke-width="0.9"/>
<line x1="173.60" y1="617.00" x2="173.60" y2="623.10" stroke="#231f20" stroke-width="0.9"/>
<line x1="174.60" y1="617.00" x2="174.60" y2="623.10" stroke="#222222" stroke-width="0.9"/>
<line x1="177.00" y1="617.00" x2="177.00" y2="623.10" stroke="#999999" stroke-width="0.9"/>
<line x1="178.30" y1="617.00" x2="178.30" y2="623.10" stroke="#888888" stroke-width="0.9"/>
<line x1="180.00" y1="617.00" x2="180.00" y2="623.10" stroke="#555555" stroke-width="0.9"/>
<line x1="182.60" y1="617.00" x2="182.60" y2="623.10" stroke="#333333" stroke-width="0.9"/>
<line x1="185.60" y1="617.00" x2="185.60" y2="623.10" stroke="#231f20" stroke-width="0.9"/>
<path d="M136.50,629.80 A165.55,165.55 0 0 0 381.70,629.80" fill="none" stroke="#a62b9d" stroke-width="1.4"/>
<path d="M183.10,629.80 A135.30,135.30 0 0 0 381.70,629.80" fill="none" stroke="#a62b9d" stroke-width="1.4"/>
<path d="M187.40,629.80 A134.02,134.02 0 0 0 381.70,629.80" fill="none" stroke="#a62b9d" stroke-width="1.4"/>
<rect x="82.80" y="700.00" width="30.70" height="2.20" fill="#2c4c9c"/>
<rect x="83.80" y="699.00" width="0.80" height="4.20" fill="#2c4c9c"/>
<rect x="86.10" y="699.00" width="0.80" height="4.20" fill="#2c4c9c"/>
<rect x="88.40" y="699.00" width="0.80" height="4.20" fill="#2c4c9c"/>
<rect x="90.70" y="699.00" width="0.80" height="4.20" fill="#2c4c9c"/>
<rect x="93.00" y="699.00" width="0.80" height="4.20" fill="#2c4c9c"/>
<rect x="95.30" y="699.00" width="0.80" height="4.20" fill="#2c4c9c"/>
<rect x="97.60" y="699.00" width="0.80" height="4.20" fill="#2c4c9c"/>
<rect x="99.90" y="699.00" width="0.80" height="4.20" fill="#2c4c9c"/>
<rect x="102.20" y="699.00" width="0.80" height="4.20" fill="#2c4c9c"/>
<rect x="104.50" y="699.00" width="0.80" height="4.20" fill="#2c4c9c"/>
<rect x="106.80" y="699.00" width="0.80" height="4.20" fill="#2c4c9c"/>
<rect x="109.10" y="699.00" width="0.80" height="4.20" fill="#2c4c9c"/>
<rect x="111.40" y="699.00" width="0.80" height="4.20" fill="#2c4c9c"/>
<rect x="82.80" y="698.85" width="1.00" height="4.50" fill="#2c4c9c"/>
<rect x="86.00" y="698.60" width="1.00" height="5.00" fill="#2c4c9c"/>
<rect x="88.80" y="698.60" width="1.00" height="5.00" fill="#2c4c9c"/>
<rect x="91.50" y="697.60" width="1.10" height="7.00" fill="#2c4c9c"/>
<rect x="93.30" y="697.85" width="1.40" height="6.50" fill="#2c4c9c"/>
<rect x="96.50" y="697.60" width="1.40" height="7.00" fill="#2c4c9c"/>
<rect x="99.50" y="698.60" width="1.00" height="5.00" fill="#2c4c9c"/>
<rect x="111.20" y="698.10" width="2.30" height="6.00" fill="#2c4c9c"/>
<rect x="125.00" y="692.70" width="7.80" height="2.20" fill="#2c4c9c"/>
<rect x="126.00" y="691.60" width="0.80" height="4.40" fill="#2c4c9c"/>
<rect x="128.30" y="691.60" width="0.80" height="4.40" fill="#2c4c9c"/>
<rect x="130.60" y="691.60" width="0.80" height="4.40" fill="#2c4c9c"/>
<rect x="125.00" y="691.05" width="1.80" height="5.50" fill="#2c4c9c"/>
<rect x="127.60" y="690.55" width="1.80" height="6.50" fill="#2c4c9c"/>
<rect x="130.20" y="690.30" width="2.60" height="7.00" fill="#2c4c9c"/>
<rect x="134.90" y="700.00" width="46.50" height="2.20" fill="#2c4c9c"/>
<rect x="135.90" y="698.90" width="0.80" height="4.40" fill="#2c4c9c"/>
<rect x="138.20" y="698.90" width="0.80" height="4.40" fill="#2c4c9c"/>
<rect x="140.50" y="698.90" width="0.80" height="4.40" fill="#2c4c9c"/>
<rect x="142.80" y="698.90" width="0.80" height="4.40" fill="#2c4c9c"/>
<rect x="145.10" y="698.90" width="0.80" height="4.40" fill="#2c4c9c"/>
<rect x="147.40" y="698.90" width="0.80" height="4.40" fill="#2c4c9c"/>
<rect x="149.70" y="698.90" width="0.80" height="4.40" fill="#2c4c9c"/>
<rect x="152.00" y="698.90" width="0.80" height="4.40" fill="#2c4c9c"/>
<rect x="154.30" y="698.90" width="0.80" height="4.40" fill="#2c4c9c"/>
<rect x="156.60" y="698.90" width="0.80" height="4.40" fill="#2c4c9c"/>
<rect x="158.90" y="698.90" width="0.80" height="4.40" fill="#2c4c9c"/>
<rect x="161.20" y="698.90" width="0.80" height="4.40" fill="#2c4c9c"/>
<rect x="163.50" y="698.90" width="0.80" height="4.40" fill="#2c4c9c"/>
<rect x="165.80" y="698.90" width="0.80" height="4.40" fill="#2c4c9c"/>
<rect x="168.10" y="698.90" width="0.80" height="4.40" fill="#2c4c9c"/>
<rect x="170.40" y="698.90" width="0.80" height="4.40" fill="#2c4c9c"/>
<rect x="172.70" y="698.90" width="0.80" height="4.40" fill="#2c4c9c"/>
<rect x="175.00" y="698.90" width="0.80" height="4.40" fill="#2c4c9c"/>
<rect x="177.30" y="698.90" width="0.80" height="4.40" fill="#2c4c9c"/>
<rect x="179.60" y="698.90" width="0.80" height="4.40" fill="#2c4c9c"/>
<rect x="134.90" y="697.60" width="9.80" height="7.00" fill="#2c4c9c"/>
<rect x="145.50" y="698.85" width="1.00" height="4.50" fill="#2c4c9c"/>
<rect x="148.30" y="697.60" width="8.00" height="7.00" fill="#2c4c9c"/>
<rect x="158.00" y="698.85" width="1.00" height="4.50" fill="#2c4c9c"/>
<rect x="163.50" y="698.60" width="1.00" height="5.00" fill="#2c4c9c"/>
<rect x="166.50" y="698.60" width="1.00" height="5.00" fill="#2c4c9c"/>
<rect x="169.50" y="698.60" width="1.00" height="5.00" fill="#2c4c9c"/>
<rect x="172.20" y="697.60" width="3.70" height="7.00" fill="#2c4c9c"/>
<rect x="177.00" y="698.10" width="1.20" height="6.00" fill="#2c4c9c"/>
<rect x="179.00" y="698.10" width="1.20" height="6.00" fill="#2c4c9c"/>
<rect x="181.00" y="697.60" width="0.40" height="7.00" fill="#2c4c9c"/>
<rect x="159.00" y="691.70" width="1.00" height="4.30" fill="#2c4c9c"/>
<rect x="181.40" y="692.70" width="12.80" height="2.20" fill="#2c4c9c"/>
<rect x="182.40" y="691.60" width="0.80" height="4.40" fill="#2c4c9c"/>
<rect x="184.70" y="691.60" width="0.80" height="4.40" fill="#2c4c9c"/>
<rect x="187.00" y="691.60" width="0.80" height="4.40" fill="#2c4c9c"/>
<rect x="189.30" y="691.60" width="0.80" height="4.40" fill="#2c4c9c"/>
<rect x="191.60" y="691.60" width="0.80" height="4.40" fill="#2c4c9c"/>
<rect x="181.40" y="690.55" width="1.00" height="6.50" fill="#2c4c9c"/>
<rect x="184.00" y="691.05" width="1.20" height="5.50" fill="#2c4c9c"/>
<rect x="186.20" y="690.30" width="8.00" height="7.00" fill="#2c4c9c"/>
<rect x="202.20" y="700.00" width="4.30" height="2.20" fill="#2c4c9c"/>
<rect x="203.20" y="698.90" width="0.80" height="4.40" fill="#2c4c9c"/>
<rect x="205.50" y="698.90" width="0.80" height="4.40" fill="#2c4c9c"/>
<rect x="203.20" y="697.85" width="1.40" height="6.50" fill="#2c4c9c"/>
<rect x="205.20" y="698.60" width="1.30" height="5.00" fill="#2c4c9c"/>
<rect x="229.40" y="692.80" width="24.60" height="2.00" fill="#2c4c9c"/>
<rect x="230.40" y="691.80" width="0.80" height="4.00" fill="#2c4c9c"/>
<rect x="232.70" y="691.80" width="0.80" height="4.00" fill="#2c4c9c"/>
<rect x="235.00" y="691.80" width="0.80" height="4.00" fill="#2c4c9c"/>
<rect x="237.30" y="691.80" width="0.80" height="4.00" fill="#2c4c9c"/>
<rect x="239.60" y="691.80" width="0.80" height="4.00" fill="#2c4c9c"/>
<rect x="241.90" y="691.80" width="0.80" height="4.00" fill="#2c4c9c"/>
<rect x="244.20" y="691.80" width="0.80" height="4.00" fill="#2c4c9c"/>
<rect x="246.50" y="691.80" width="0.80" height="4.00" fill="#2c4c9c"/>
<rect x="248.80" y="691.80" width="0.80" height="4.00" fill="#2c4c9c"/>
<rect x="251.10" y="691.80" width="0.80" height="4.00" fill="#2c4c9c"/>
<rect x="229.40" y="691.55" width="0.80" height="4.50" fill="#2c4c9c"/>
<rect x="240.50" y="691.30" width="1.00" height="5.00" fill="#2c4c9c"/>
<rect x="243.50" y="690.55" width="1.70" height="6.50" fill="#2c4c9c"/>
<rect x="245.70" y="690.30" width="3.00" height="7.00" fill="#2c4c9c"/>
<rect x="249.60" y="690.55" width="4.40" height="6.50" fill="#2c4c9c"/>
<rect x="301.50" y="692.80" width="33.40" height="2.00" fill="#2c4c9c"/>
<rect x="302.50" y="691.80" width="0.80" height="4.00" fill="#2c4c9c"/>
<rect x="304.80" y="691.80" width="0.80" height="4.00" fill="#2c4c9c"/>
<rect x="307.10" y="691.80" width="0.80" height="4.00" fill="#2c4c9c"/>
<rect x="309.40" y="691.80" width="0.80" height="4.00" fill="#2c4c9c"/>
<rect x="311.70" y="691.80" width="0.80" height="4.00" fill="#2c4c9c"/>
<rect x="314.00" y="691.80" width="0.80" height="4.00" fill="#2c4c9c"/>
<rect x="316.30" y="691.80" width="0.80" height="4.00" fill="#2c4c9c"/>
<rect x="318.60" y="691.80" width="0.80" height="4.00" fill="#2c4c9c"/>
<rect x="320.90" y="691.80" width="0.80" height="4.00" fill="#2c4c9c"/>
<rect x="323.20" y="691.80" width="0.80" height="4.00" fill="#2c4c9c"/>
<rect x="325.50" y="691.80" width="0.80" height="4.00" fill="#2c4c9c"/>
<rect x="327.80" y="691.80" width="0.80" height="4.00" fill="#2c4c9c"/>
<rect x="330.10" y="691.80" width="0.80" height="4.00" fill="#2c4c9c"/>
<rect x="332.40" y="691.80" width="0.80" height="4.00" fill="#2c4c9c"/>
<rect x="301.50" y="690.30" width="6.10" height="7.00" fill="#2c4c9c"/>
<rect x="308.50" y="691.05" width="1.00" height="5.50" fill="#2c4c9c"/>
<rect x="311.00" y="690.80" width="1.00" height="6.00" fill="#2c4c9c"/>
<rect x="334.00" y="690.80" width="0.90" height="6.00" fill="#2c4c9c"/>
<rect x="349.30" y="692.80" width="32.50" height="2.00" fill="#2c4c9c"/>
<rect x="350.30" y="691.80" width="0.80" height="4.00" fill="#2c4c9c"/>
<rect x="352.60" y="691.80" width="0.80" height="4.00" fill="#2c4c9c"/>
<rect x="354.90" y="691.80" width="0.80" height="4.00" fill="#2c4c9c"/>
<rect x="357.20" y="691.80" width="0.80" height="4.00" fill="#2c4c9c"/>
<rect x="359.50" y="691.80" width="0.80" height="4.00" fill="#2c4c9c"/>
<rect x="361.80" y="691.80" width="0.80" height="4.00" fill="#2c4c9c"/>
<rect x="364.10" y="691.80" width="0.80" height="4.00" fill="#2c4c9c"/>
<rect x="366.40" y="691.80" width="0.80" height="4.00" fill="#2c4c9c"/>
<rect x="368.70" y="691.80" width="0.80" height="4.00" fill="#2c4c9c"/>
<rect x="371.00" y="691.80" width="0.80" height="4.00" fill="#2c4c9c"/>
<rect x="373.30" y="691.80" width="0.80" height="4.00" fill="#2c4c9c"/>
<rect x="375.60" y="691.80" width="0.80" height="4.00" fill="#2c4c9c"/>
<rect x="377.90" y="691.80" width="0.80" height="4.00" fill="#2c4c9c"/>
<rect x="380.20" y="691.80" width="0.80" height="4.00" fill="#2c4c9c"/>
<rect x="349.30" y="691.05" width="7.50" height="5.50" fill="#2c4c9c"/>
<rect x="357.50" y="690.30" width="1.50" height="7.00" fill="#2c4c9c"/>
<rect x="360.00" y="691.05" width="1.00" height="5.50" fill="#2c4c9c"/>
<rect x="369.60" y="690.55" width="1.10" height="6.50" fill="#2c4c9c"/>
<rect x="381.00" y="690.80" width="0.80" height="6.00" fill="#2c4c9c"/>
<rect x="407.10" y="692.80" width="32.10" height="2.00" fill="#2c4c9c"/>
<rect x="408.10" y="691.80" width="0.80" height="4.00" fill="#2c4c9c"/>
<rect x="410.40" y="691.80" width="0.80" height="4.00" fill="#2c4c9c"/>
<rect x="412.70" y="691.80" width="0.80" height="4.00" fill="#2c4c9c"/>
<rect x="415.00" y="691.80" width="0.80" height="4.00" fill="#2c4c9c"/>
<rect x="417.30" y="691.80" width="0.80" height="4.00" fill="#2c4c9c"/>
<rect x="419.60" y="691.80" width="0.80" height="4.00" fill="#2c4c9c"/>
<rect x="421.90" y="691.80" width="0.80" height="4.00" fill="#2c4c9c"/>
<rect x="424.20" y="691.80" width="0.80" height="4.00" fill="#2c4c9c"/>
<rect x="426.50" y="691.80" width="0.80" height="4.00" fill="#2c4c9c"/>
<rect x="428.80" y="691.80" width="0.80" height="4.00" fill="#2c4c9c"/>
<rect x="431.10" y="691.80" width="0.80" height="4.00" fill="#2c4c9c"/>
<rect x="433.40" y="691.80" width="0.80" height="4.00" fill="#2c4c9c"/>
<rect x="435.70" y="691.80" width="0.80" height="4.00" fill="#2c4c9c"/>
<rect x="438.00" y="691.80" width="0.80" height="4.00" fill="#2c4c9c"/>
<rect x="407.10" y="690.80" width="1.40" height="6.00" fill="#2c4c9c"/>
<rect x="410.50" y="690.80" width="1.00" height="6.00" fill="#2c4c9c"/>
<rect x="413.50" y="691.30" width="1.00" height="5.00" fill="#2c4c9c"/>
<rect x="417.00" y="691.30" width="1.00" height="5.00" fill="#2c4c9c"/>
<rect x="419.50" y="690.55" width="1.00" height="6.50" fill="#2c4c9c"/>
<rect x="428.50" y="690.80" width="1.00" height="6.00" fill="#2c4c9c"/>
<rect x="430.50" y="690.55" width="1.00" height="6.50" fill="#2c4c9c"/>
<rect x="432.00" y="691.05" width="0.80" height="5.50" fill="#2c4c9c"/>
<rect x="438.40" y="690.80" width="0.80" height="6.00" fill="#2c4c9c"/>
<rect x="466.00" y="692.80" width="16.00" height="2.00" fill="#2c4c9c"/>
<rect x="467.00" y="692.00" width="0.80" height="3.60" fill="#2c4c9c"/>
<rect x="469.30" y="692.00" width="0.80" height="3.60" fill="#2c4c9c"/>
<rect x="471.60" y="692.00" width="0.80" height="3.60" fill="#2c4c9c"/>
<rect x="473.90" y="692.00" width="0.80" height="3.60" fill="#2c4c9c"/>
<rect x="476.20" y="692.00" width="0.80" height="3.60" fill="#2c4c9c"/>
<rect x="478.50" y="692.00" width="0.80" height="3.60" fill="#2c4c9c"/>
<rect x="480.80" y="692.00" width="0.80" height="3.60" fill="#2c4c9c"/>
<rect x="466.00" y="690.55" width="2.00" height="6.50" fill="#2c4c9c"/>
<rect x="468.80" y="690.80" width="1.40" height="6.00" fill="#2c4c9c"/>
<text x="0" y="0" font-size="10.2" text-anchor="middle" fill="#231f20" stroke="#231f20" stroke-width="0.2" textLength="25.70" lengthAdjust="spacingAndGlyphs" transform="translate(103.30 720.65) rotate(-90)">DCAF8</text>
<text x="0" y="0" font-size="10.2" text-anchor="middle" fill="#231f20" stroke="#231f20" stroke-width="0.2" textLength="22.50" lengthAdjust="spacingAndGlyphs" transform="translate(131.10 712.65) rotate(-90)">PEX19</text>
<text x="0" y="0" font-size="10.2" text-anchor="middle" fill="#231f20" stroke="#231f20" stroke-width="0.2" textLength="20.30" lengthAdjust="spacingAndGlyphs" transform="translate(161.10 719.05) rotate(-90)">COPA</text>
<text x="0" y="0" font-size="10.2" text-anchor="middle" fill="#231f20" stroke="#231f20" stroke-width="0.2" textLength="24.20" lengthAdjust="spacingAndGlyphs" transform="translate(192.80 714.60) rotate(-90)">NCSTN</text>
<text x="0" y="0" font-size="10.2" text-anchor="middle" fill="#231f20" stroke="#231f20" stroke-width="0.2" textLength="24.60" lengthAdjust="spacingAndGlyphs" transform="translate(208.40 722.30) rotate(-90)">NHLH1</text>
<text x="0" y="0" font-size="10.2" text-anchor="middle" fill="#231f20" stroke="#231f20" stroke-width="0.2" textLength="31.00" lengthAdjust="spacingAndGlyphs" transform="translate(246.10 718.00) rotate(-90)">VANGL2</text>
<text x="0" y="0" font-size="10.2" text-anchor="middle" fill="#231f20" stroke="#231f20" stroke-width="0.2" textLength="30.00" lengthAdjust="spacingAndGlyphs" transform="translate(321.00 716.40) rotate(-90)">SLAMF6</text>
<text x="0" y="0" font-size="10.2" text-anchor="middle" fill="#231f20" stroke="#231f20" stroke-width="0.2" textLength="19.50" lengthAdjust="spacingAndGlyphs" transform="translate(370.70 711.55) rotate(-90)">CD84</text>
<text x="0" y="0" font-size="10.2" text-anchor="middle" fill="#231f20" stroke="#231f20" stroke-width="0.2" textLength="29.80" lengthAdjust="spacingAndGlyphs" transform="translate(426.60 716.70) rotate(-90)">SLAMF1</text>
<text x="0" y="0" font-size="10.2" text-anchor="middle" fill="#231f20" stroke="#231f20" stroke-width="0.2" textLength="20.70" lengthAdjust="spacingAndGlyphs" transform="translate(477.80 710.95) rotate(-90)">CD48</text>
<text x="552.50" y="400.10" font-size="8.5" text-anchor="middle" fill="#231f20" textLength="82.00" lengthAdjust="spacingAndGlyphs" stroke="#231f20" stroke-width="0.38" >CD84 expression level</text>
<text x="552.50" y="410.60" font-size="8.5" text-anchor="middle" fill="#231f20" textLength="44.70" lengthAdjust="spacingAndGlyphs" stroke="#231f20" stroke-width="0.38" >(scRNA-seq)</text>
<line x1="500.60" y1="433.30" x2="605.91" y2="433.30" stroke="#231f20" stroke-width="1.6"/>
<line x1="501.40" y1="428.50" x2="501.40" y2="433.30" stroke="#231f20" stroke-width="1.6"/>
<text x="501.40" y="425.70" font-size="8.5" text-anchor="middle" fill="#231f20" stroke="#231f20" stroke-width="0.38" >0</text>
<line x1="535.97" y1="428.50" x2="535.97" y2="433.30" stroke="#231f20" stroke-width="1.6"/>
<text x="535.97" y="425.70" font-size="8.5" text-anchor="middle" fill="#231f20" stroke="#231f20" stroke-width="0.38" >1</text>
<line x1="570.54" y1="428.50" x2="570.54" y2="433.30" stroke="#231f20" stroke-width="1.6"/>
<text x="570.54" y="425.70" font-size="8.5" text-anchor="middle" fill="#231f20" stroke="#231f20" stroke-width="0.38" >2</text>
<line x1="605.11" y1="428.50" x2="605.11" y2="433.30" stroke="#231f20" stroke-width="1.6"/>
<text x="605.11" y="425.70" font-size="8.5" text-anchor="middle" fill="#231f20" stroke="#231f20" stroke-width="0.38" >3</text>
<line x1="501.30" y1="436.90" x2="501.30" y2="456.70" stroke="#2f2f2f" stroke-width="1.5"/>
<line x1="501.30" y1="446.50" x2="606.00" y2="446.50" stroke="#444444" stroke-width="1.25"/>
<line x1="501.30" y1="460.80" x2="501.30" y2="480.60" stroke="#2f2f2f" stroke-width="1.5"/>
<line x1="501.30" y1="470.50" x2="582.20" y2="470.50" stroke="#444444" stroke-width="1.25"/>
<line x1="501.30" y1="485.20" x2="501.30" y2="505.00" stroke="#2f2f2f" stroke-width="1.5"/>
<line x1="501.30" y1="495.50" x2="593.00" y2="495.50" stroke="#444444" stroke-width="1.25"/>
<line x1="501.30" y1="509.30" x2="501.30" y2="529.10" stroke="#2f2f2f" stroke-width="1.5"/>
<line x1="501.30" y1="519.50" x2="618.40" y2="519.50" stroke="#444444" stroke-width="1.25"/>
<line x1="501.30" y1="533.10" x2="501.30" y2="552.90" stroke="#2f2f2f" stroke-width="1.5"/>
<line x1="501.30" y1="543.50" x2="564.30" y2="543.50" stroke="#444444" stroke-width="1.25"/>
<line x1="501.30" y1="557.30" x2="501.30" y2="577.10" stroke="#2f2f2f" stroke-width="1.5"/>
<line x1="501.30" y1="567.50" x2="562.70" y2="567.50" stroke="#444444" stroke-width="1.25"/>
<line x1="501.30" y1="581.40" x2="501.30" y2="601.20" stroke="#2f2f2f" stroke-width="1.5"/>
<line x1="501.30" y1="591.50" x2="555.00" y2="591.50" stroke="#444444" stroke-width="1.25"/>
<path d="M500.6,437.0 C501.5,440 503,444.9 505.8,446.6 C503,448.3 501.5,453.5 500.6,456.8 Z" fill="#e2656a" stroke="#2a2a2a" stroke-width="0.9"/>
<path d="M505,446.6 C512,445.4 535,445.5 556,446.6 C535,447.7 512,447.8 505,446.6 Z" fill="#333333"/></svg>
</body></html>
